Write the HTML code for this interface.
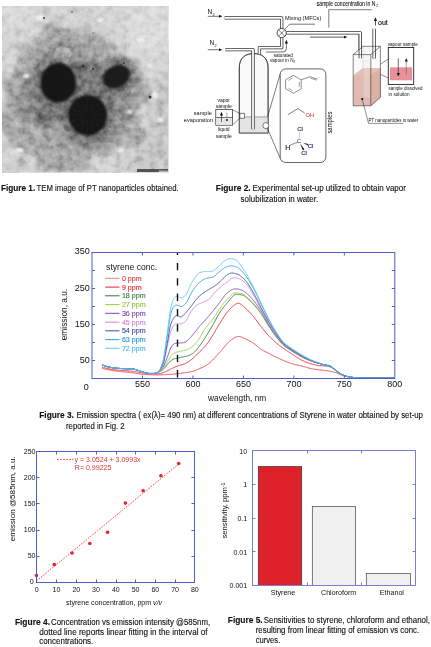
<!DOCTYPE html>
<html><head><meta charset="utf-8"><title>Figures</title>
<style>
html,body{margin:0;padding:0;background:#fff;}
body{width:431px;height:647px;overflow:hidden;}
svg{display:block;}
svg text{font-family:'Liberation Sans', Arial, Helvetica, sans-serif;}
</style></head><body>
<svg width="431" height="647" viewBox="0 0 431 647" fill="#111">
<defs>
<filter id="temf" x="0" y="0" width="1" height="1" filterUnits="objectBoundingBox" color-interpolation-filters="sRGB">
 <feTurbulence type="fractalNoise" baseFrequency="0.14" numOctaves="4" seed="11" result="t"/>
 <feColorMatrix in="t" type="matrix" values="0.9 0 0 0 0.06  0.9 0 0 0 0.06  0.9 0 0 0 0.06  0 0 0 0 1" result="g"/>
 <feBlend in="g" in2="SourceGraphic" mode="soft-light"/>
</filter>
<filter id="halof" x="-30%" y="-30%" width="160%" height="160%" color-interpolation-filters="sRGB">
 <feTurbulence type="fractalNoise" baseFrequency="0.045" numOctaves="3" seed="5" result="t"/>
 <feDisplacementMap in="SourceGraphic" in2="t" scale="30" xChannelSelector="R" yChannelSelector="G" result="d"/>
 <feGaussianBlur in="d" stdDeviation="2.2"/>
</filter>
<filter id="blur1" x="-20%" y="-20%" width="140%" height="140%"><feGaussianBlur stdDeviation="0.9"/></filter>
<filter id="blur07" x="-20%" y="-20%" width="140%" height="140%"><feGaussianBlur stdDeviation="0.6"/></filter>
<filter id="blur6" x="-50%" y="-50%" width="200%" height="200%"><feGaussianBlur stdDeviation="7"/></filter>
<filter id="blur4" x="-50%" y="-50%" width="200%" height="200%"><feGaussianBlur stdDeviation="4"/></filter>
<clipPath id="temclip"><rect x="2" y="6" width="166.5" height="166.6"/></clipPath>
</defs>
<g clip-path="url(#temclip)"><g filter="url(#temf)">
<rect x="2" y="6" width="166.5" height="166.6" fill="#d2d2d2"/>
<ellipse cx="150" cy="30" rx="25" ry="28" fill="#dcdcdc" filter="url(#blur6)"/>
<ellipse cx="18" cy="18" rx="18" ry="12" fill="#dcdcdc" filter="url(#blur6)"/>
<ellipse cx="155" cy="160" rx="30" ry="25" fill="#c6c6c6" filter="url(#blur6)"/>
<ellipse cx="162" cy="112" rx="14" ry="34" fill="#c4c4c4" filter="url(#blur6)"/>
<g filter="url(#halof)" fill="#a8a8a8"><ellipse cx="76" cy="98" rx="68" ry="64"/><ellipse cx="24" cy="108" rx="22" ry="44"/><ellipse cx="46" cy="48" rx="22" ry="24"/><ellipse cx="62" cy="150" rx="42" ry="18"/><ellipse cx="134" cy="134" rx="14" ry="13"/></g>
<g filter="url(#blur4)" fill="#8c8c8c"><ellipse cx="62" cy="84" rx="31" ry="35"/><ellipse cx="90" cy="117" rx="32" ry="32"/><ellipse cx="116" cy="80" rx="21" ry="20"/><ellipse cx="36" cy="100" rx="18" ry="30"/><ellipse cx="120" cy="110" rx="14" ry="16"/></g>
<ellipse cx="62" cy="56" rx="15" ry="13" fill="#8a8a8a" filter="url(#blur4)"/>
<circle cx="62.6" cy="55" r="8.7" fill="#b4b4b4" filter="url(#blur07)"/>
<circle cx="35.7" cy="129.1" r="7.5" fill="#b8b8b8" filter="url(#blur1)" opacity="0.8"/>
<ellipse cx="40" cy="18" rx="4" ry="2.5" fill="#eeeeee" filter="url(#blur1)"/>
<ellipse cx="26" cy="76" rx="3" ry="2" fill="#eeeeee" filter="url(#blur1)"/>
<ellipse cx="150" cy="66" rx="3" ry="2.5" fill="#eeeeee" filter="url(#blur1)"/>
<ellipse cx="140" cy="40" rx="4" ry="3" fill="#eeeeee" filter="url(#blur1)"/>
<ellipse cx="160" cy="120" rx="3" ry="2" fill="#eeeeee" filter="url(#blur1)"/>
<ellipse cx="20" cy="150" rx="4" ry="2" fill="#eeeeee" filter="url(#blur1)"/>
<ellipse cx="120" cy="150" rx="3" ry="2" fill="#eeeeee" filter="url(#blur1)"/>
<ellipse cx="100" cy="20" rx="3" ry="2" fill="#eeeeee" filter="url(#blur1)"/>
<ellipse cx="155" cy="95" rx="3" ry="3" fill="#eeeeee" filter="url(#blur1)"/>
<ellipse cx="130" cy="112" rx="2.5" ry="2" fill="#eeeeee" filter="url(#blur1)"/>
<g filter="url(#blur4)" fill="#666" opacity="0.9"><ellipse cx="58.2" cy="84" rx="24" ry="26"/><ellipse cx="87.7" cy="116" rx="25" ry="26"/><ellipse cx="116.4" cy="77" rx="19" ry="15.5" transform="rotate(-30 116.4 76.6)"/><ellipse cx="98" cy="92" rx="8" ry="8"/><ellipse cx="45" cy="118" rx="10" ry="10"/><ellipse cx="88" cy="68" rx="11" ry="9"/></g>
</g>
<ellipse cx="58.2" cy="82.8" rx="17.6" ry="19.8" fill="#141414" filter="url(#blur1)"/>
<ellipse cx="87.7" cy="115.2" rx="19.3" ry="20.3" fill="#161616" filter="url(#blur1)"/>
<ellipse cx="116.4" cy="76.6" rx="14.2" ry="10.8" transform="rotate(-30 116.4 76.6)" fill="#1c1c1c" filter="url(#blur1)"/>
<line x1="91.7" y1="115.2" x2="104.7" y2="115.2" stroke="#222" stroke-width="0.6"/>
<line x1="91.4" y1="116.7" x2="103.4" y2="121.7" stroke="#222" stroke-width="0.6"/>
<line x1="90.5" y1="118.0" x2="99.7" y2="127.2" stroke="#222" stroke-width="0.6"/>
<line x1="89.2" y1="118.9" x2="94.2" y2="130.9" stroke="#222" stroke-width="0.6"/>
<line x1="87.7" y1="119.2" x2="87.7" y2="132.2" stroke="#222" stroke-width="0.6"/>
<line x1="86.2" y1="118.9" x2="81.2" y2="130.9" stroke="#222" stroke-width="0.6"/>
<line x1="84.9" y1="118.0" x2="75.7" y2="127.2" stroke="#222" stroke-width="0.6"/>
<line x1="84.0" y1="116.7" x2="72.0" y2="121.7" stroke="#222" stroke-width="0.6"/>
<line x1="83.7" y1="115.2" x2="70.7" y2="115.2" stroke="#222" stroke-width="0.6"/>
<line x1="84.0" y1="113.7" x2="72.0" y2="108.7" stroke="#222" stroke-width="0.6"/>
<line x1="84.9" y1="112.4" x2="75.7" y2="103.2" stroke="#222" stroke-width="0.6"/>
<line x1="86.2" y1="111.5" x2="81.2" y2="99.5" stroke="#222" stroke-width="0.6"/>
<line x1="87.7" y1="111.2" x2="87.7" y2="98.2" stroke="#222" stroke-width="0.6"/>
<line x1="89.2" y1="111.5" x2="94.2" y2="99.5" stroke="#222" stroke-width="0.6"/>
<line x1="90.5" y1="112.4" x2="99.7" y2="103.2" stroke="#222" stroke-width="0.6"/>
<line x1="91.4" y1="113.7" x2="103.4" y2="108.7" stroke="#222" stroke-width="0.6"/>
<circle cx="44" cy="18" r="1.0" fill="#333"/>
<circle cx="72" cy="12" r="0.7" fill="#333"/>
<circle cx="93" cy="33" r="0.6" fill="#333"/>
<circle cx="150" cy="97" r="1.5" fill="#333"/>
<circle cx="77" cy="97" r="0.6" fill="#333"/>
<circle cx="82" cy="121" r="0.5" fill="#333"/>
<circle cx="110" cy="127" r="0.6" fill="#333"/>
<circle cx="52" cy="147" r="0.5" fill="#333"/>
<circle cx="121" cy="65" r="0.9" fill="#333"/>
<circle cx="113" cy="68" r="0.6" fill="#333"/>
<circle cx="85" cy="133" r="0.6" fill="#333"/>
<circle cx="130" cy="92" r="0.5" fill="#333"/>
<circle cx="124" cy="63" r="1.0" fill="#333"/>
<circle cx="98" cy="104" r="0.6" fill="#333"/>
<circle cx="83" cy="66" r="1.4" fill="#333"/>
<circle cx="93" cy="69" r="1.1" fill="#333"/>
<rect x="137" y="169.3" width="31" height="1.3" fill="#222"/>
<rect x="137" y="170.6" width="22" height="1.3" fill="#444"/>
<rect x="159" y="170.6" width="8.5" height="1.3" fill="#b0b0b0"/>
</g>
<defs>
<marker id="ah" markerWidth="3.4" markerHeight="3.2" refX="3" refY="1.6" orient="auto" markerUnits="userSpaceOnUse"><path d="M0,0 L3.4,1.6 L0,3.2 z" fill="#111"/></marker>
<marker id="ahg" markerWidth="3.4" markerHeight="3.2" refX="3" refY="1.6" orient="auto" markerUnits="userSpaceOnUse"><path d="M0,0 L3.4,1.6 L0,3.2 z" fill="#555"/></marker>
<filter id="stip" x="0" y="0" width="100%" height="100%"><feTurbulence type="fractalNoise" baseFrequency="0.9" numOctaves="1" seed="3"/><feColorMatrix type="matrix" values="0 0 0 0 0.6  0 0 0 0 0.6  0 0 0 0 0.6  0 0 0 -2.2 1.25"/></filter>
</defs>
<text x="207.6" y="13.8" font-size="6.5">N</text><text x="212.6" y="15.8" font-size="3.8">2</text>
<line x1="207.8" y1="16.3" x2="221.7" y2="16.3" stroke="#111" stroke-width="0.6" marker-end="url(#ah)"/>
<text x="209.4" y="45.3" font-size="6.5">N</text><text x="214.4" y="47.3" font-size="3.8">2</text>
<line x1="207.8" y1="49.7" x2="221.7" y2="49.7" stroke="#111" stroke-width="0.6" marker-end="url(#ah)"/>
<path d="M239.3,133 L239.3,68 C239.3,57 246,53.6 253.7,53.6 C261.4,53.6 268.1,57 268.1,68 L268.1,133 Z" fill="#fafafa" stroke="#333" stroke-width="0.7"/>
<rect x="239.6" y="116.9" width="28.2" height="15.8" fill="#e4e4e4"/>
<line x1="239.3" y1="116.9" x2="268.1" y2="116.9" stroke="#555" stroke-width="0.5"/>
<path d="M239.3,133 L239.3,68 C239.3,57 246,53.6 253.7,53.6 C261.4,53.6 268.1,57 268.1,68 L268.1,133 Z" fill="none" stroke="#333" stroke-width="0.7"/>
<path d="M224.6,17.9 L281.7,17.9 L281.7,28.4" fill="none" stroke="#333" stroke-width="3.3" stroke-linejoin="round" stroke-linecap="butt"/><path d="M224.6,17.9 L281.7,17.9 L281.7,28.4" fill="none" stroke="#fff" stroke-width="1.75" stroke-linejoin="round" stroke-linecap="butt"/>
<path d="M281.7,37.6 L281.7,47.6 L259.4,47.6 L259.4,54.2" fill="none" stroke="#333" stroke-width="3.3" stroke-linejoin="round" stroke-linecap="butt"/><path d="M281.7,37.6 L281.7,47.6 L259.4,47.6 L259.4,54.2" fill="none" stroke="#fff" stroke-width="1.75" stroke-linejoin="round" stroke-linecap="butt"/>
<path d="M225.4,49.6 L253,49.6 L253,129.3" fill="none" stroke="#333" stroke-width="3.3" stroke-linejoin="round" stroke-linecap="butt"/><path d="M225.4,49.6 L253,49.6 L253,129.3" fill="none" stroke="#fff" stroke-width="1.75" stroke-linejoin="round" stroke-linecap="butt"/>
<path d="M286.3,32.9 L360.3,32.9 L360.3,58.2" fill="none" stroke="#333" stroke-width="3.3" stroke-linejoin="round" stroke-linecap="butt"/><path d="M286.3,32.9 L360.3,32.9 L360.3,58.2" fill="none" stroke="#fff" stroke-width="1.75" stroke-linejoin="round" stroke-linecap="butt"/>
<circle cx="281.7" cy="33" r="4.6" fill="#fff" stroke="#222" stroke-width="0.8"/>
<path d="M278.4,29.7 L285,36.3 M285,29.7 L278.4,36.3" stroke="#222" stroke-width="0.6"/>
<text x="284.9" y="20.3" font-size="5.6">Mixing (MFCs)</text>
<path d="M285.2,29 L289.5,24.2 L315,24.2" fill="none" stroke="#222" stroke-width="0.6"/>
<line x1="310" y1="37.1" x2="346.5" y2="37.1" stroke="#111" stroke-width="0.7" marker-end="url(#ah)"/>
<path d="M328.8,27.6 L328.8,9.7 L371.7,9.7" fill="none" stroke="#222" stroke-width="0.6"/>
<text x="316.8" y="5.9" font-size="6.3" stroke="#111" stroke-width="0.08" textLength="58.5" lengthAdjust="spacingAndGlyphs">sample concentration in N</text><text x="376.2" y="7.3" font-size="3.6">2</text>
<path d="M265.9,52 L283,52 Q286.4,52 286.4,48.5 L286.4,40.5" fill="none" stroke="#111" stroke-width="0.6" marker-end="url(#ah)"/>
<text x="283.3" y="56.8" font-size="4.6" text-anchor="middle">saturated</text>
<text x="282.6" y="61.9" font-size="4.6" text-anchor="middle">vapour in N<tspan font-size="3" dy="1">2</tspan></text>
<rect x="239.9" y="113.2" width="4.4" height="5" fill="#fff" stroke="#222" stroke-width="0.6"/>
<path d="M232.5,109.8 L239.9,113.4 M232.5,125 L239.9,118" stroke="#222" stroke-width="0.5" fill="none"/>
<rect x="215.8" y="109.5" width="16.7" height="15.7" fill="#fff" stroke="#222" stroke-width="0.7"/>
<rect x="216.2" y="117.5" width="15.9" height="7.4" fill="#e6e6e6"/><rect x="225.8" y="112.5" width="2" height="4.6" fill="#d0d0d0"/>
<line x1="215.8" y1="117.5" x2="232.5" y2="117.5" stroke="#222" stroke-width="0.6"/>
<line x1="221.5" y1="122" x2="221.5" y2="112.5" stroke="#111" stroke-width="0.6" marker-end="url(#ah)"/>
<rect x="226" y="119.2" width="1.8" height="1.6" fill="#111"/>
<text x="223.7" y="102.1" font-size="5" text-anchor="middle">vapor</text>
<text x="223.7" y="107.6" font-size="5" text-anchor="middle">sample</text>
<text x="223.7" y="131.4" font-size="5" text-anchor="middle">liquid</text>
<text x="223.7" y="137.6" font-size="5" text-anchor="middle">sample</text>
<text x="211.8" y="115.3" font-size="5.6" text-anchor="end">sample</text>
<text x="213" y="121.7" font-size="5.6" text-anchor="end">evaporation</text>
<path d="M267.8,116 L280.3,73.5 M267.5,128.5 L280.3,158.5" stroke="#222" stroke-width="0.6" fill="none"/>
<circle cx="265.9" cy="125.6" r="3" fill="#fff" stroke="#222" stroke-width="0.6"/>
<rect x="280.2" y="68.9" width="45.7" height="93.6" rx="5.5" fill="#fff" stroke="#222" stroke-width="0.7"/>
<path d="M293.40,75.30 L301.19,79.80 L301.19,88.80 L293.40,93.30 L285.61,88.80 L285.61,79.80 Z" fill="none" stroke="#444" stroke-width="0.6"/>
<line x1="299.29" y1="81.92" x2="299.29" y2="86.68" stroke="#444" stroke-width="0.5"/>
<line x1="292.52" y1="90.59" x2="288.39" y2="88.21" stroke="#444" stroke-width="0.5"/>
<line x1="288.39" y1="80.39" x2="292.52" y2="78.01" stroke="#444" stroke-width="0.5"/>
<path d="M301.19,79.80 L310,76.7 L317.5,79.2" fill="none" stroke="#444" stroke-width="0.6"/>
<path d="M310.5,78.2 L316.6,80.2" fill="none" stroke="#444" stroke-width="0.5"/>
<path d="M287.8,114.7 L298,108.6 L304.5,112.9" fill="none" stroke="#222" stroke-width="0.6"/>
<text x="305.6" y="116.5" font-size="5.6" fill="#e8202a">OH</text>
<text x="300" y="130.6" font-size="6" fill="#2e2e78" stroke="#2e2e78" stroke-width="0.18" text-anchor="middle">Cl</text>
<line x1="299.6" y1="131.6" x2="299.6" y2="138.3" stroke="#999" stroke-width="0.5"/>
<text x="298.8" y="143.4" font-size="6" fill="#2a2a55" text-anchor="middle">C</text>
<text x="287.8" y="149.7" font-size="7" fill="#111" stroke="#111" stroke-width="0.15" text-anchor="middle">H</text>
<line x1="290.1" y1="145.2" x2="297.1" y2="142.3" stroke="#222" stroke-width="0.55"/>
<path d="M302.9,142.8 L308.3,144.1 L307.9,145.5 Z" fill="#222"/>
<path d="M300,143.3 L302.8,150.3 L304.5,149.6 Z" fill="#111"/>
<text x="310.6" y="148" font-size="6" fill="#2e2e78" stroke="#2e2e78" stroke-width="0.18" text-anchor="middle">Cl</text>
<text x="304" y="155" font-size="6" fill="#2e2e78" stroke="#2e2e78" stroke-width="0.18" text-anchor="middle">Cl</text>
<text transform="translate(332.2 133.6) rotate(-90)" font-size="7" textLength="22" lengthAdjust="spacingAndGlyphs">samples</text>
<path d="M353.2,54.6 L363,46.3 L380.4,46.3 L380.4,97.3 L370.8,105.8 L353.2,105.8 Z" fill="#fbfbfb" stroke="none"/>
<path d="M353.2,75.5 L363,67.9 L380.4,67.9 L380.4,97.3 L370.8,105.8 L353.2,105.8 Z" fill="#e2bab0"/>
<path d="M353.2,75.5 L363,67.9 L380.4,67.9 L370.8,75.5 Z" fill="#e6c0b6"/>
<path d="M370.8,75.5 L380.4,67.9 L380.4,97.3 L370.8,105.8 Z" fill="#ddb2a6"/>
<rect x="363.2" y="46.5" width="6.8" height="51.5" fill="#e9e9e9" opacity="0.3"/><path d="M363,46.3 L363,98 L353.2,105.8 M363,98 L380.4,98" stroke="#b8b8b8" stroke-width="0.4" fill="none"/>
<path d="M374.1,28.8 L374.1,58.5" fill="none" stroke="#333" stroke-width="3.3" stroke-linejoin="round" stroke-linecap="butt"/><path d="M374.1,28.8 L374.1,58.5" fill="none" stroke="#fff" stroke-width="1.75" stroke-linejoin="round" stroke-linecap="butt"/>
<path d="M360.3,34 L360.3,58.2" fill="none" stroke="#333" stroke-width="3.3" stroke-linejoin="round" stroke-linecap="butt"/><path d="M360.3,34 L360.3,58.2" fill="none" stroke="#fff" stroke-width="1.75" stroke-linejoin="round" stroke-linecap="butt"/>
<path d="M353.2,54.6 L363,46.3 L380.4,46.3 L370.8,54.6 Z M353.2,54.6 L353.2,105.8 L370.8,105.8 L370.8,54.6 M370.8,105.8 L380.4,97.3 L380.4,46.3" fill="none" stroke="#333" stroke-width="0.6" stroke-linejoin="round"/>
<circle cx="362.2" cy="99" r="1.1" fill="#000"/>
<path d="M362.2,99 L368.5,123.4 L403.3,123.4" fill="none" stroke="#222" stroke-width="0.5"/>
<text x="368.6" y="122.2" font-size="5.4" textLength="49.5" lengthAdjust="spacingAndGlyphs">PT nanoparticles in water</text>
<line x1="375.5" y1="25.5" x2="375.5" y2="17.9" stroke="#111" stroke-width="0.7" marker-end="url(#ah)"/>
<text x="378" y="25" font-size="7.2" stroke="#111" stroke-width="0.15" textLength="9.8" lengthAdjust="spacingAndGlyphs">out</text>
<path d="M380.4,64.3 L388.3,59 M380.4,74.4 L388.3,77.9" stroke="#222" stroke-width="0.5" fill="none"/>
<rect x="388.3" y="47.5" width="25.4" height="36.9" fill="#fff" stroke="#222" stroke-width="0.9"/>
<rect x="390" y="67.3" width="22.2" height="13" fill="#e8909c"/>
<line x1="398.3" y1="58.4" x2="398.3" y2="76" stroke="#111" stroke-width="0.6" marker-end="url(#ah)"/>
<line x1="406.3" y1="74.4" x2="406.3" y2="58.6" stroke="#444" stroke-width="0.5" marker-end="url(#ah)"/>
<text x="387.7" y="45.6" font-size="4.6">vapour sample</text>
<text x="388.5" y="90.4" font-size="5" textLength="34" lengthAdjust="spacingAndGlyphs">sample dissolved</text>
<text x="388.5" y="96.3" font-size="5" textLength="21" lengthAdjust="spacingAndGlyphs">in solution</text>
<path d="M102.09,368.42 L102.60,368.53 L103.10,368.65 L103.61,368.76 L104.11,368.87 L104.62,368.98 L105.12,369.09 L105.63,369.19 L106.13,369.30 L106.64,369.40 L107.14,369.50 L107.64,369.60 L108.15,369.70 L108.65,369.80 L109.16,369.90 L109.66,369.99 L110.17,370.09 L110.67,370.19 L111.18,370.28 L111.68,370.37 L112.19,370.46 L112.69,370.55 L113.20,370.63 L113.70,370.72 L114.21,370.79 L114.71,370.87 L115.21,370.94 L115.72,371.01 L116.22,371.07 L116.73,371.14 L117.23,371.20 L117.74,371.25 L118.24,371.31 L118.75,371.37 L119.25,371.42 L119.76,371.47 L120.26,371.52 L120.77,371.57 L121.27,371.62 L121.78,371.67 L122.28,371.72 L122.78,371.76 L123.29,371.81 L123.79,371.86 L124.30,371.90 L124.80,371.95 L125.31,371.99 L125.81,372.04 L126.32,372.09 L126.82,372.13 L127.33,372.18 L127.83,372.23 L128.34,372.28 L128.84,372.33 L129.35,372.39 L129.85,372.44 L130.35,372.50 L130.86,372.55 L131.36,372.61 L131.87,372.68 L132.37,372.74 L132.88,372.81 L133.38,372.88 L133.89,372.96 L134.39,373.05 L134.90,373.13 L135.40,373.22 L135.91,373.32 L136.41,373.41 L136.92,373.50 L137.42,373.59 L137.92,373.68 L138.43,373.77 L138.93,373.85 L139.44,373.93 L139.94,374.00 L140.45,374.07 L140.95,374.13 L141.46,374.18 L141.96,374.23 L142.47,374.27 L142.97,374.32 L143.48,374.36 L143.98,374.40 L144.49,374.44 L144.99,374.47 L145.49,374.51 L146.00,374.54 L146.50,374.58 L147.01,374.61 L147.51,374.63 L148.02,374.66 L148.52,374.68 L149.03,374.70 L149.53,374.72 L150.04,374.74 L150.54,374.75 L151.05,374.77 L151.55,374.79 L152.06,374.80 L152.56,374.82 L153.06,374.83 L153.57,374.84 L154.07,374.86 L154.58,374.87 L155.08,374.88 L155.59,374.88 L156.09,374.89 L156.60,374.90 L157.10,374.90 L157.61,374.90 L158.11,374.90 L158.62,374.89 L159.12,374.89 L159.63,374.88 L160.13,374.87 L160.63,374.85 L161.14,374.84 L161.64,374.82 L162.15,374.80 L162.65,374.78 L163.16,374.76 L163.66,374.74 L164.17,374.72 L164.67,374.69 L165.18,374.67 L165.68,374.64 L166.19,374.62 L166.69,374.59 L167.20,374.57 L167.70,374.54 L168.20,374.51 L168.71,374.48 L169.21,374.45 L169.72,374.41 L170.22,374.38 L170.73,374.34 L171.23,374.30 L171.74,374.25 L172.24,374.21 L172.75,374.16 L173.25,374.11 L173.76,374.06 L174.26,374.01 L174.77,373.96 L175.27,373.91 L175.77,373.85 L176.28,373.80 L176.78,373.75 L177.29,373.69 L177.79,373.64 L178.30,373.59 L178.80,373.53 L179.31,373.47 L179.81,373.41 L180.32,373.35 L180.82,373.29 L181.33,373.23 L181.83,373.16 L182.34,373.10 L182.84,373.03 L183.34,372.96 L183.85,372.89 L184.35,372.81 L184.86,372.74 L185.36,372.67 L185.87,372.59 L186.37,372.52 L186.88,372.44 L187.38,372.37 L187.89,372.29 L188.39,372.21 L188.90,372.12 L189.40,372.04 L189.91,371.95 L190.41,371.85 L190.91,371.75 L191.42,371.65 L191.92,371.54 L192.43,371.42 L192.93,371.30 L193.44,371.16 L193.94,371.01 L194.45,370.84 L194.95,370.66 L195.46,370.46 L195.96,370.25 L196.47,370.04 L196.97,369.82 L197.48,369.59 L197.98,369.35 L198.48,369.12 L198.99,368.88 L199.49,368.65 L200.00,368.42 L200.50,368.19 L201.01,367.97 L201.51,367.74 L202.02,367.51 L202.52,367.28 L203.03,367.04 L203.53,366.80 L204.04,366.55 L204.54,366.29 L205.05,366.02 L205.55,365.74 L206.05,365.45 L206.56,365.14 L207.06,364.82 L207.57,364.47 L208.07,364.10 L208.58,363.70 L209.08,363.27 L209.59,362.82 L210.09,362.36 L210.60,361.88 L211.10,361.40 L211.61,360.90 L212.11,360.41 L212.62,359.91 L213.12,359.42 L213.62,358.92 L214.13,358.42 L214.63,357.90 L215.14,357.37 L215.64,356.83 L216.15,356.29 L216.65,355.74 L217.16,355.19 L217.66,354.63 L218.17,354.08 L218.67,353.52 L219.18,352.96 L219.68,352.41 L220.19,351.86 L220.69,351.30 L221.19,350.72 L221.70,350.13 L222.20,349.53 L222.71,348.91 L223.21,348.29 L223.72,347.67 L224.22,347.04 L224.73,346.42 L225.23,345.81 L225.74,345.20 L226.24,344.61 L226.75,344.03 L227.25,343.48 L227.76,342.94 L228.26,342.43 L228.76,341.95 L229.27,341.50 L229.77,341.08 L230.28,340.70 L230.78,340.34 L231.29,339.96 L231.79,339.59 L232.30,339.22 L232.80,338.85 L233.31,338.49 L233.81,338.15 L234.32,337.82 L234.82,337.52 L235.33,337.24 L235.83,337.00 L236.33,336.79 L236.84,336.61 L237.34,336.49 L237.85,336.41 L238.35,336.38 L238.86,336.40 L239.36,336.47 L239.87,336.57 L240.37,336.70 L240.88,336.87 L241.38,337.06 L241.89,337.26 L242.39,337.49 L242.90,337.72 L243.40,337.96 L243.90,338.20 L244.41,338.44 L244.91,338.68 L245.42,338.90 L245.92,339.12 L246.43,339.34 L246.93,339.57 L247.44,339.81 L247.94,340.06 L248.45,340.31 L248.95,340.57 L249.46,340.83 L249.96,341.11 L250.47,341.39 L250.97,341.67 L251.47,341.97 L251.98,342.27 L252.48,342.58 L252.99,342.90 L253.49,343.22 L254.00,343.56 L254.50,343.94 L255.01,344.34 L255.51,344.76 L256.02,345.20 L256.52,345.65 L257.03,346.10 L257.53,346.55 L258.04,347.00 L258.54,347.44 L259.04,347.86 L259.55,348.26 L260.05,348.64 L260.56,348.98 L261.06,349.30 L261.57,349.61 L262.07,349.91 L262.58,350.20 L263.08,350.48 L263.59,350.75 L264.09,351.01 L264.60,351.27 L265.10,351.53 L265.61,351.78 L266.11,352.03 L266.61,352.28 L267.12,352.53 L267.62,352.79 L268.13,353.04 L268.63,353.30 L269.14,353.56 L269.64,353.82 L270.15,354.08 L270.65,354.35 L271.16,354.61 L271.66,354.87 L272.17,355.13 L272.67,355.38 L273.18,355.64 L273.68,355.90 L274.18,356.15 L274.69,356.41 L275.19,356.66 L275.70,356.90 L276.20,357.15 L276.71,357.39 L277.21,357.64 L277.72,357.87 L278.22,358.11 L278.73,358.34 L279.23,358.57 L279.74,358.80 L280.24,359.03 L280.75,359.26 L281.25,359.50 L281.75,359.73 L282.26,359.96 L282.76,360.18 L283.27,360.41 L283.77,360.64 L284.28,360.86 L284.78,361.08 L285.29,361.30 L285.79,361.51 L286.30,361.72 L286.80,361.92 L287.31,362.12 L287.81,362.32 L288.32,362.51 L288.82,362.70 L289.32,362.88 L289.83,363.05 L290.33,363.22 L290.84,363.38 L291.34,363.53 L291.85,363.68 L292.35,363.83 L292.86,363.96 L293.36,364.10 L293.87,364.23 L294.37,364.36 L294.88,364.48 L295.38,364.60 L295.89,364.72 L296.39,364.83 L296.89,364.95 L297.40,365.06 L297.90,365.18 L298.41,365.29 L298.91,365.40 L299.42,365.51 L299.92,365.63 L300.43,365.74 L300.93,365.86 L301.44,365.98 L301.94,366.10 L302.45,366.23 L302.95,366.35 L303.46,366.48 L303.96,366.62 L304.46,366.76 L304.97,366.91 L305.47,367.07 L305.98,367.23 L306.48,367.39 L306.99,367.56 L307.49,367.72 L308.00,367.88 L308.50,368.03 L309.01,368.17 L309.51,368.30 L310.02,368.42 L310.52,368.53 L311.03,368.64 L311.53,368.74 L312.03,368.84 L312.54,368.93 L313.04,369.02 L313.55,369.11 L314.05,369.19 L314.56,369.27 L315.06,369.35 L315.57,369.43 L316.07,369.50 L316.58,369.57 L317.08,369.64 L317.59,369.70 L318.09,369.76 L318.60,369.82 L319.10,369.88 L319.60,369.93 L320.11,369.99 L320.61,370.05 L321.12,370.10 L321.62,370.16 L322.13,370.22 L322.63,370.28 L323.14,370.34 L323.64,370.39 L324.15,370.45 L324.65,370.50 L325.16,370.56 L325.66,370.62 L326.17,370.68 L326.67,370.74 L327.17,370.80 L327.68,370.87 L328.18,370.94 L328.69,371.01 L329.19,371.09 L329.70,371.18 L330.20,371.26 L330.71,371.36 L331.21,371.45 L331.72,371.55 L332.22,371.66 L332.73,371.77 L333.23,371.89 L333.74,372.01 L334.24,372.14 L334.74,372.28 L335.25,372.42 L335.75,372.58 L336.26,372.74 L336.76,372.92 L337.27,373.14 L337.77,373.37 L338.28,373.61 L338.78,373.85 L339.29,374.10 L339.79,374.33 L340.30,374.54 L340.80,374.74 L341.31,374.94 L341.81,375.13 L342.31,375.31 L342.82,375.49 L343.32,375.67 L343.83,375.83 L344.33,375.98 L344.84,376.13 L345.34,376.28 L345.85,376.42 L346.35,376.57 L346.86,376.71 L347.36,376.85 L347.87,376.97 L348.37,377.09 L348.88,377.20 L349.38,377.29 L349.88,377.36 L350.39,377.42 L350.89,377.47 L351.40,377.51 L351.90,377.54 L352.41,377.58 L352.91,377.61 L353.42,377.63 L353.92,377.66 L354.43,377.68 L354.93,377.71 L355.44,377.73 L355.94,377.75 L356.45,377.78 L356.95,377.81 L357.45,377.84 L357.96,377.86 L358.46,377.89 L358.97,377.92 L359.47,377.95 L359.98,377.98 L360.48,378.01 L360.99,378.04 L361.49,378.06 L362.00,378.08 L362.50,378.10 L363.01,378.12 L363.51,378.13 L364.02,378.14 L364.52,378.14 L365.02,378.14 L365.53,378.14 L366.03,378.14 L366.54,378.14 L367.04,378.14 L367.55,378.14 L368.05,378.14 L368.56,378.14 L369.06,378.14 L369.57,378.14 L370.07,378.14 L370.58,378.14 L371.08,378.14 L371.59,378.14 L372.09,378.14 L372.59,378.14 L373.10,378.14 L373.60,378.14 L374.11,378.14 L374.61,378.14 L375.12,378.14 L375.62,378.14 L376.13,378.14 L376.63,378.14 L377.14,378.14 L377.64,378.14 L378.15,378.14 L378.65,378.14 L379.16,378.14 L379.66,378.14 L380.16,378.14 L380.67,378.14 L381.17,378.14 L381.68,378.14 L382.18,378.14 L382.69,378.14 L383.19,378.14 L383.70,378.14 L384.20,378.14 L384.71,378.14 L385.21,378.14 L385.72,378.14 L386.22,378.14 L386.73,378.14 L387.23,378.14 L387.73,378.14 L388.24,378.14 L388.74,378.14 L389.25,378.14 L389.75,378.14 L390.26,378.14 L390.76,378.14 L391.27,378.14 L391.77,378.14 L392.28,378.14 L392.78,378.14 L393.29,378.14 L393.79,378.14 L394.30,378.14 L394.80,378.14" fill="none" stroke="#ea3a40" stroke-width="0.9" stroke-linejoin="round"/>
<path d="M102.09,366.98 L102.60,367.14 L103.10,367.30 L103.61,367.46 L104.11,367.62 L104.62,367.76 L105.12,367.91 L105.63,368.05 L106.13,368.18 L106.64,368.30 L107.14,368.42 L107.64,368.53 L108.15,368.64 L108.65,368.75 L109.16,368.85 L109.66,368.96 L110.17,369.06 L110.67,369.15 L111.18,369.25 L111.68,369.34 L112.19,369.42 L112.69,369.50 L113.20,369.58 L113.70,369.66 L114.21,369.73 L114.71,369.80 L115.21,369.86 L115.72,369.92 L116.22,369.97 L116.73,370.03 L117.23,370.08 L117.74,370.13 L118.24,370.17 L118.75,370.22 L119.25,370.26 L119.76,370.30 L120.26,370.34 L120.77,370.38 L121.27,370.42 L121.78,370.45 L122.28,370.49 L122.78,370.52 L123.29,370.56 L123.79,370.59 L124.30,370.63 L124.80,370.66 L125.31,370.70 L125.81,370.73 L126.32,370.77 L126.82,370.80 L127.33,370.84 L127.83,370.88 L128.34,370.92 L128.84,370.96 L129.35,371.00 L129.85,371.05 L130.35,371.09 L130.86,371.14 L131.36,371.19 L131.87,371.24 L132.37,371.30 L132.88,371.36 L133.38,371.43 L133.89,371.50 L134.39,371.57 L134.90,371.65 L135.40,371.73 L135.91,371.81 L136.41,371.90 L136.92,371.98 L137.42,372.07 L137.92,372.16 L138.43,372.25 L138.93,372.34 L139.44,372.42 L139.94,372.50 L140.45,372.59 L140.95,372.66 L141.46,372.74 L141.96,372.82 L142.47,372.90 L142.97,372.98 L143.48,373.07 L143.98,373.16 L144.49,373.25 L144.99,373.34 L145.49,373.43 L146.00,373.51 L146.50,373.58 L147.01,373.65 L147.51,373.71 L148.02,373.75 L148.52,373.79 L149.03,373.81 L149.53,373.82 L150.04,373.82 L150.54,373.82 L151.05,373.82 L151.55,373.82 L152.06,373.82 L152.56,373.82 L153.06,373.82 L153.57,373.82 L154.07,373.82 L154.58,373.82 L155.08,373.82 L155.59,373.82 L156.09,373.82 L156.60,373.82 L157.10,373.82 L157.61,373.82 L158.11,373.80 L158.62,373.75 L159.12,373.68 L159.63,373.58 L160.13,373.46 L160.63,373.33 L161.14,373.18 L161.64,373.04 L162.15,372.89 L162.65,372.74 L163.16,372.58 L163.66,372.41 L164.17,372.21 L164.67,372.00 L165.18,371.77 L165.68,371.54 L166.19,371.30 L166.69,371.06 L167.20,370.82 L167.70,370.58 L168.20,370.34 L168.71,370.09 L169.21,369.84 L169.72,369.58 L170.22,369.32 L170.73,369.06 L171.23,368.80 L171.74,368.55 L172.24,368.30 L172.75,368.06 L173.25,367.83 L173.76,367.60 L174.26,367.37 L174.77,367.14 L175.27,366.92 L175.77,366.70 L176.28,366.49 L176.78,366.28 L177.29,366.09 L177.79,365.90 L178.30,365.73 L178.80,365.56 L179.31,365.41 L179.81,365.27 L180.32,365.14 L180.82,365.00 L181.33,364.87 L181.83,364.73 L182.34,364.60 L182.84,364.45 L183.34,364.29 L183.85,364.12 L184.35,363.94 L184.86,363.74 L185.36,363.52 L185.87,363.27 L186.37,363.01 L186.88,362.72 L187.38,362.42 L187.89,362.10 L188.39,361.77 L188.90,361.42 L189.40,361.06 L189.91,360.69 L190.41,360.31 L190.91,359.93 L191.42,359.54 L191.92,359.14 L192.43,358.74 L192.93,358.34 L193.44,357.93 L193.94,357.50 L194.45,357.05 L194.95,356.58 L195.46,356.11 L195.96,355.62 L196.47,355.12 L196.97,354.61 L197.48,354.09 L197.98,353.58 L198.48,353.06 L198.99,352.53 L199.49,352.02 L200.00,351.50 L200.50,350.99 L201.01,350.48 L201.51,349.98 L202.02,349.48 L202.52,348.97 L203.03,348.46 L203.53,347.94 L204.04,347.42 L204.54,346.88 L205.05,346.33 L205.55,345.76 L206.05,345.18 L206.56,344.57 L207.06,343.94 L207.57,343.28 L208.07,342.58 L208.58,341.85 L209.08,341.10 L209.59,340.32 L210.09,339.52 L210.60,338.70 L211.10,337.88 L211.61,337.05 L212.11,336.22 L212.62,335.40 L213.12,334.58 L213.62,333.76 L214.13,332.92 L214.63,332.06 L215.14,331.20 L215.64,330.33 L216.15,329.45 L216.65,328.57 L217.16,327.70 L217.66,326.83 L218.17,325.97 L218.67,325.12 L219.18,324.29 L219.68,323.49 L220.19,322.70 L220.69,321.92 L221.19,321.14 L221.70,320.34 L222.20,319.55 L222.71,318.76 L223.21,317.96 L223.72,317.18 L224.22,316.40 L224.73,315.63 L225.23,314.87 L225.74,314.13 L226.24,313.41 L226.75,312.72 L227.25,312.04 L227.76,311.40 L228.26,310.78 L228.76,310.19 L229.27,309.64 L229.77,309.13 L230.28,308.66 L230.78,308.20 L231.29,307.74 L231.79,307.27 L232.30,306.80 L232.80,306.34 L233.31,305.90 L233.81,305.47 L234.32,305.06 L234.82,304.68 L235.33,304.34 L235.83,304.03 L236.33,303.77 L236.84,303.55 L237.34,303.39 L237.85,303.29 L238.35,303.26 L238.86,303.31 L239.36,303.44 L239.87,303.65 L240.37,303.93 L240.88,304.27 L241.38,304.64 L241.89,305.05 L242.39,305.49 L242.90,305.93 L243.40,306.37 L243.90,306.81 L244.41,307.22 L244.91,307.63 L245.42,308.05 L245.92,308.50 L246.43,308.96 L246.93,309.43 L247.44,309.92 L247.94,310.43 L248.45,310.94 L248.95,311.47 L249.46,312.01 L249.96,312.56 L250.47,313.12 L250.97,313.68 L251.47,314.25 L251.98,314.83 L252.48,315.41 L252.99,315.99 L253.49,316.58 L254.00,317.18 L254.50,317.81 L255.01,318.45 L255.51,319.12 L256.02,319.79 L256.52,320.48 L257.03,321.17 L257.53,321.87 L258.04,322.57 L258.54,323.26 L259.04,323.95 L259.55,324.63 L260.05,325.29 L260.56,325.94 L261.06,326.58 L261.57,327.22 L262.07,327.86 L262.58,328.49 L263.08,329.13 L263.59,329.76 L264.09,330.39 L264.60,331.01 L265.10,331.63 L265.61,332.23 L266.11,332.83 L266.61,333.42 L267.12,334.00 L267.62,334.57 L268.13,335.12 L268.63,335.66 L269.14,336.19 L269.64,336.71 L270.15,337.22 L270.65,337.72 L271.16,338.21 L271.66,338.70 L272.17,339.18 L272.67,339.66 L273.18,340.12 L273.68,340.58 L274.18,341.04 L274.69,341.48 L275.19,341.93 L275.70,342.36 L276.20,342.79 L276.71,343.22 L277.21,343.64 L277.72,344.05 L278.22,344.46 L278.73,344.86 L279.23,345.26 L279.74,345.65 L280.24,346.03 L280.75,346.42 L281.25,346.79 L281.75,347.16 L282.26,347.53 L282.76,347.90 L283.27,348.26 L283.77,348.62 L284.28,348.98 L284.78,349.33 L285.29,349.67 L285.79,350.02 L286.30,350.36 L286.80,350.69 L287.31,351.03 L287.81,351.36 L288.32,351.68 L288.82,352.01 L289.32,352.34 L289.83,352.66 L290.33,352.98 L290.84,353.30 L291.34,353.62 L291.85,353.95 L292.35,354.28 L292.86,354.61 L293.36,354.94 L293.87,355.27 L294.37,355.60 L294.88,355.94 L295.38,356.27 L295.89,356.60 L296.39,356.93 L296.89,357.26 L297.40,357.58 L297.90,357.90 L298.41,358.21 L298.91,358.52 L299.42,358.83 L299.92,359.13 L300.43,359.42 L300.93,359.70 L301.44,359.98 L301.94,360.25 L302.45,360.51 L302.95,360.75 L303.46,360.99 L303.96,361.22 L304.46,361.44 L304.97,361.65 L305.47,361.87 L305.98,362.07 L306.48,362.27 L306.99,362.47 L307.49,362.66 L308.00,362.84 L308.50,363.02 L309.01,363.20 L309.51,363.36 L310.02,363.52 L310.52,363.68 L311.03,363.83 L311.53,363.97 L312.03,364.10 L312.54,364.23 L313.04,364.36 L313.55,364.48 L314.05,364.61 L314.56,364.73 L315.06,364.85 L315.57,364.96 L316.07,365.06 L316.58,365.16 L317.08,365.25 L317.59,365.34 L318.09,365.42 L318.60,365.48 L319.10,365.54 L319.60,365.59 L320.11,365.63 L320.61,365.66 L321.12,365.70 L321.62,365.72 L322.13,365.75 L322.63,365.78 L323.14,365.82 L323.64,365.86 L324.15,365.90 L324.65,365.95 L325.16,366.00 L325.66,366.06 L326.17,366.12 L326.67,366.18 L327.17,366.25 L327.68,366.33 L328.18,366.42 L328.69,366.51 L329.19,366.62 L329.70,366.75 L330.20,366.93 L330.71,367.14 L331.21,367.38 L331.72,367.65 L332.22,367.93 L332.73,368.23 L333.23,368.53 L333.74,368.84 L334.24,369.14 L334.74,369.45 L335.25,369.79 L335.75,370.15 L336.26,370.53 L336.76,370.91 L337.27,371.30 L337.77,371.68 L338.28,372.05 L338.78,372.41 L339.29,372.74 L339.79,373.06 L340.30,373.39 L340.80,373.72 L341.31,374.05 L341.81,374.37 L342.31,374.67 L342.82,374.95 L343.32,375.20 L343.83,375.43 L344.33,375.62 L344.84,375.79 L345.34,375.94 L345.85,376.09 L346.35,376.23 L346.86,376.36 L347.36,376.48 L347.87,376.59 L348.37,376.70 L348.88,376.80 L349.38,376.89 L349.88,376.98 L350.39,377.06 L350.89,377.14 L351.40,377.22 L351.90,377.29 L352.41,377.36 L352.91,377.43 L353.42,377.49 L353.92,377.55 L354.43,377.60 L354.93,377.66 L355.44,377.70 L355.94,377.74 L356.45,377.78 L356.95,377.81 L357.45,377.85 L357.96,377.88 L358.46,377.91 L358.97,377.94 L359.47,377.97 L359.98,378.00 L360.48,378.03 L360.99,378.05 L361.49,378.07 L362.00,378.09 L362.50,378.11 L363.01,378.12 L363.51,378.13 L364.02,378.14 L364.52,378.14 L365.02,378.14 L365.53,378.14 L366.03,378.14 L366.54,378.14 L367.04,378.14 L367.55,378.14 L368.05,378.14 L368.56,378.14 L369.06,378.14 L369.57,378.14 L370.07,378.14 L370.58,378.14 L371.08,378.14 L371.59,378.14 L372.09,378.14 L372.59,378.14 L373.10,378.14 L373.60,378.14 L374.11,378.14 L374.61,378.14 L375.12,378.14 L375.62,378.14 L376.13,378.14 L376.63,378.14 L377.14,378.14 L377.64,378.14 L378.15,378.14 L378.65,378.14 L379.16,378.14 L379.66,378.14 L380.16,378.14 L380.67,378.14 L381.17,378.14 L381.68,378.14 L382.18,378.14 L382.69,378.14 L383.19,378.14 L383.70,378.14 L384.20,378.14 L384.71,378.14 L385.21,378.14 L385.72,378.14 L386.22,378.14 L386.73,378.14 L387.23,378.14 L387.73,378.14 L388.24,378.14 L388.74,378.14 L389.25,378.14 L389.75,378.14 L390.26,378.14 L390.76,378.14 L391.27,378.14 L391.77,378.14 L392.28,378.14 L392.78,378.14 L393.29,378.14 L393.79,378.14 L394.30,378.14 L394.80,378.14" fill="none" stroke="#e8242c" stroke-width="0.9" stroke-linejoin="round"/>
<path d="M102.09,364.82 L102.60,365.03 L103.10,365.24 L103.61,365.45 L104.11,365.64 L104.62,365.83 L105.12,366.02 L105.63,366.19 L106.13,366.34 L106.64,366.49 L107.14,366.62 L107.64,366.74 L108.15,366.86 L108.65,366.97 L109.16,367.08 L109.66,367.19 L110.17,367.29 L110.67,367.39 L111.18,367.48 L111.68,367.57 L112.19,367.65 L112.69,367.73 L113.20,367.81 L113.70,367.88 L114.21,367.94 L114.71,368.00 L115.21,368.06 L115.72,368.11 L116.22,368.16 L116.73,368.21 L117.23,368.26 L117.74,368.30 L118.24,368.35 L118.75,368.39 L119.25,368.42 L119.76,368.46 L120.26,368.49 L120.77,368.52 L121.27,368.55 L121.78,368.58 L122.28,368.60 L122.78,368.62 L123.29,368.64 L123.79,368.66 L124.30,368.68 L124.80,368.70 L125.31,368.72 L125.81,368.74 L126.32,368.75 L126.82,368.76 L127.33,368.77 L127.83,368.78 L128.34,368.78 L128.84,368.78 L129.35,368.78 L129.85,368.78 L130.35,368.78 L130.86,368.78 L131.36,368.78 L131.87,368.78 L132.37,368.78 L132.88,368.81 L133.38,368.89 L133.89,369.02 L134.39,369.17 L134.90,369.35 L135.40,369.53 L135.91,369.70 L136.41,369.86 L136.92,370.01 L137.42,370.17 L137.92,370.33 L138.43,370.49 L138.93,370.65 L139.44,370.82 L139.94,370.99 L140.45,371.15 L140.95,371.32 L141.46,371.48 L141.96,371.64 L142.47,371.81 L142.97,371.99 L143.48,372.16 L143.98,372.32 L144.49,372.47 L144.99,372.62 L145.49,372.74 L146.00,372.86 L146.50,372.98 L147.01,373.10 L147.51,373.21 L148.02,373.31 L148.52,373.39 L149.03,373.44 L149.53,373.46 L150.04,373.46 L150.54,373.46 L151.05,373.46 L151.55,373.46 L152.06,373.46 L152.56,373.46 L153.06,373.46 L153.57,373.46 L154.07,373.43 L154.58,373.36 L155.08,373.24 L155.59,373.09 L156.09,372.93 L156.60,372.74 L157.10,372.56 L157.61,372.38 L158.11,372.20 L158.62,372.01 L159.12,371.80 L159.63,371.58 L160.13,371.34 L160.63,371.09 L161.14,370.81 L161.64,370.52 L162.15,370.20 L162.65,369.86 L163.16,369.46 L163.66,368.99 L164.17,368.45 L164.67,367.86 L165.18,367.24 L165.68,366.59 L166.19,365.94 L166.69,365.30 L167.20,364.68 L167.70,364.10 L168.20,363.53 L168.71,362.94 L169.21,362.35 L169.72,361.80 L170.22,361.29 L170.73,360.86 L171.23,360.49 L171.74,360.13 L172.24,359.81 L172.75,359.52 L173.25,359.27 L173.76,359.06 L174.26,358.88 L174.77,358.72 L175.27,358.58 L175.77,358.45 L176.28,358.33 L176.78,358.21 L177.29,358.10 L177.79,357.98 L178.30,357.86 L178.80,357.74 L179.31,357.63 L179.81,357.52 L180.32,357.41 L180.82,357.31 L181.33,357.20 L181.83,357.10 L182.34,357.00 L182.84,356.90 L183.34,356.81 L183.85,356.73 L184.35,356.65 L184.86,356.57 L185.36,356.49 L185.87,356.40 L186.37,356.30 L186.88,356.18 L187.38,356.04 L187.89,355.88 L188.39,355.70 L188.90,355.50 L189.40,355.29 L189.91,355.05 L190.41,354.80 L190.91,354.53 L191.42,354.24 L191.92,353.94 L192.43,353.63 L192.93,353.30 L193.44,352.94 L193.94,352.53 L194.45,352.08 L194.95,351.58 L195.46,351.05 L195.96,350.49 L196.47,349.90 L196.97,349.29 L197.48,348.65 L197.98,348.01 L198.48,347.36 L198.99,346.70 L199.49,346.04 L200.00,345.38 L200.50,344.71 L201.01,344.02 L201.51,343.30 L202.02,342.56 L202.52,341.81 L203.03,341.03 L203.53,340.25 L204.04,339.45 L204.54,338.64 L205.05,337.83 L205.55,337.02 L206.05,336.20 L206.56,335.39 L207.06,334.58 L207.57,333.77 L208.07,332.96 L208.58,332.13 L209.08,331.31 L209.59,330.47 L210.09,329.63 L210.60,328.79 L211.10,327.94 L211.61,327.09 L212.11,326.23 L212.62,325.37 L213.12,324.50 L213.62,323.62 L214.13,322.71 L214.63,321.78 L215.14,320.84 L215.64,319.89 L216.15,318.94 L216.65,317.99 L217.16,317.05 L217.66,316.13 L218.17,315.22 L218.67,314.34 L219.18,313.49 L219.68,312.67 L220.19,311.90 L220.69,311.16 L221.19,310.43 L221.70,309.73 L222.20,309.04 L222.71,308.36 L223.21,307.70 L223.72,307.06 L224.22,306.42 L224.73,305.81 L225.23,305.20 L225.74,304.61 L226.24,304.03 L226.75,303.46 L227.25,302.90 L227.76,302.33 L228.26,301.73 L228.76,301.11 L229.27,300.47 L229.77,299.83 L230.28,299.19 L230.78,298.55 L231.29,297.93 L231.79,297.34 L232.30,296.77 L232.80,296.24 L233.31,295.76 L233.81,295.33 L234.32,294.97 L234.82,294.67 L235.33,294.45 L235.83,294.31 L236.33,294.26 L236.84,294.27 L237.34,294.28 L237.85,294.31 L238.35,294.36 L238.86,294.41 L239.36,294.47 L239.87,294.53 L240.37,294.61 L240.88,294.69 L241.38,294.78 L241.89,294.88 L242.39,294.98 L242.90,295.12 L243.40,295.33 L243.90,295.59 L244.41,295.91 L244.91,296.27 L245.42,296.66 L245.92,297.08 L246.43,297.52 L246.93,297.97 L247.44,298.42 L247.94,298.87 L248.45,299.30 L248.95,299.73 L249.46,300.18 L249.96,300.64 L250.47,301.11 L250.97,301.60 L251.47,302.11 L251.98,302.62 L252.48,303.15 L252.99,303.69 L253.49,304.23 L254.00,304.79 L254.50,305.35 L255.01,305.92 L255.51,306.50 L256.02,307.09 L256.52,307.69 L257.03,308.31 L257.53,308.94 L258.04,309.58 L258.54,310.23 L259.04,310.90 L259.55,311.58 L260.05,312.28 L260.56,312.98 L261.06,313.69 L261.57,314.42 L262.07,315.17 L262.58,315.94 L263.08,316.74 L263.59,317.57 L264.09,318.40 L264.60,319.25 L265.10,320.11 L265.61,320.97 L266.11,321.83 L266.61,322.68 L267.12,323.52 L267.62,324.35 L268.13,325.16 L268.63,325.94 L269.14,326.71 L269.64,327.47 L270.15,328.24 L270.65,329.00 L271.16,329.75 L271.66,330.50 L272.17,331.24 L272.67,331.97 L273.18,332.70 L273.68,333.42 L274.18,334.12 L274.69,334.82 L275.19,335.50 L275.70,336.17 L276.20,336.82 L276.71,337.46 L277.21,338.09 L277.72,338.72 L278.22,339.34 L278.73,339.96 L279.23,340.57 L279.74,341.17 L280.24,341.76 L280.75,342.33 L281.25,342.89 L281.75,343.43 L282.26,343.95 L282.76,344.45 L283.27,344.93 L283.77,345.38 L284.28,345.81 L284.78,346.23 L285.29,346.63 L285.79,347.01 L286.30,347.39 L286.80,347.75 L287.31,348.10 L287.81,348.45 L288.32,348.78 L288.82,349.12 L289.32,349.44 L289.83,349.77 L290.33,350.10 L290.84,350.42 L291.34,350.74 L291.85,351.07 L292.35,351.39 L292.86,351.71 L293.36,352.03 L293.87,352.35 L294.37,352.66 L294.88,352.97 L295.38,353.28 L295.89,353.59 L296.39,353.89 L296.89,354.19 L297.40,354.49 L297.90,354.79 L298.41,355.08 L298.91,355.36 L299.42,355.65 L299.92,355.92 L300.43,356.20 L300.93,356.47 L301.44,356.73 L301.94,356.99 L302.45,357.25 L302.95,357.50 L303.46,357.74 L303.96,357.98 L304.46,358.21 L304.97,358.44 L305.47,358.67 L305.98,358.88 L306.48,359.10 L306.99,359.31 L307.49,359.52 L308.00,359.72 L308.50,359.92 L309.01,360.12 L309.51,360.31 L310.02,360.50 L310.52,360.68 L311.03,360.86 L311.53,361.04 L312.03,361.22 L312.54,361.39 L313.04,361.56 L313.55,361.72 L314.05,361.88 L314.56,362.04 L315.06,362.19 L315.57,362.35 L316.07,362.50 L316.58,362.64 L317.08,362.79 L317.59,362.94 L318.09,363.08 L318.60,363.23 L319.10,363.38 L319.60,363.53 L320.11,363.69 L320.61,363.85 L321.12,364.01 L321.62,364.17 L322.13,364.32 L322.63,364.46 L323.14,364.59 L323.64,364.72 L324.15,364.82 L324.65,364.91 L325.16,364.98 L325.66,365.04 L326.17,365.10 L326.67,365.15 L327.17,365.21 L327.68,365.27 L328.18,365.35 L328.69,365.43 L329.19,365.54 L329.70,365.69 L330.20,365.91 L330.71,366.19 L331.21,366.51 L331.72,366.86 L332.22,367.24 L332.73,367.63 L333.23,368.02 L333.74,368.41 L334.24,368.78 L334.74,369.15 L335.25,369.54 L335.75,369.95 L336.26,370.37 L336.76,370.79 L337.27,371.21 L337.77,371.62 L338.28,372.02 L338.78,372.39 L339.29,372.74 L339.79,373.08 L340.30,373.41 L340.80,373.74 L341.31,374.07 L341.81,374.38 L342.31,374.68 L342.82,374.96 L343.32,375.21 L343.83,375.43 L344.33,375.62 L344.84,375.79 L345.34,375.94 L345.85,376.09 L346.35,376.23 L346.86,376.36 L347.36,376.48 L347.87,376.59 L348.37,376.70 L348.88,376.80 L349.38,376.89 L349.88,376.98 L350.39,377.06 L350.89,377.14 L351.40,377.22 L351.90,377.29 L352.41,377.36 L352.91,377.43 L353.42,377.49 L353.92,377.55 L354.43,377.60 L354.93,377.66 L355.44,377.70 L355.94,377.74 L356.45,377.78 L356.95,377.81 L357.45,377.85 L357.96,377.88 L358.46,377.91 L358.97,377.94 L359.47,377.97 L359.98,378.00 L360.48,378.03 L360.99,378.05 L361.49,378.07 L362.00,378.09 L362.50,378.11 L363.01,378.12 L363.51,378.13 L364.02,378.14 L364.52,378.14 L365.02,378.14 L365.53,378.14 L366.03,378.14 L366.54,378.14 L367.04,378.14 L367.55,378.14 L368.05,378.14 L368.56,378.14 L369.06,378.14 L369.57,378.14 L370.07,378.14 L370.58,378.14 L371.08,378.14 L371.59,378.14 L372.09,378.14 L372.59,378.14 L373.10,378.14 L373.60,378.14 L374.11,378.14 L374.61,378.14 L375.12,378.14 L375.62,378.14 L376.13,378.14 L376.63,378.14 L377.14,378.14 L377.64,378.14 L378.15,378.14 L378.65,378.14 L379.16,378.14 L379.66,378.14 L380.16,378.14 L380.67,378.14 L381.17,378.14 L381.68,378.14 L382.18,378.14 L382.69,378.14 L383.19,378.14 L383.70,378.14 L384.20,378.14 L384.71,378.14 L385.21,378.14 L385.72,378.14 L386.22,378.14 L386.73,378.14 L387.23,378.14 L387.73,378.14 L388.24,378.14 L388.74,378.14 L389.25,378.14 L389.75,378.14 L390.26,378.14 L390.76,378.14 L391.27,378.14 L391.77,378.14 L392.28,378.14 L392.78,378.14 L393.29,378.14 L393.79,378.14 L394.30,378.14 L394.80,378.14" fill="none" stroke="#2e7a3c" stroke-width="0.9" stroke-linejoin="round"/>
<path d="M102.09,364.82 L102.60,365.03 L103.10,365.24 L103.61,365.45 L104.11,365.64 L104.62,365.83 L105.12,366.02 L105.63,366.19 L106.13,366.34 L106.64,366.49 L107.14,366.62 L107.64,366.74 L108.15,366.86 L108.65,366.97 L109.16,367.08 L109.66,367.19 L110.17,367.29 L110.67,367.39 L111.18,367.48 L111.68,367.57 L112.19,367.65 L112.69,367.73 L113.20,367.81 L113.70,367.88 L114.21,367.94 L114.71,368.00 L115.21,368.06 L115.72,368.11 L116.22,368.16 L116.73,368.21 L117.23,368.26 L117.74,368.30 L118.24,368.35 L118.75,368.39 L119.25,368.42 L119.76,368.46 L120.26,368.49 L120.77,368.52 L121.27,368.55 L121.78,368.58 L122.28,368.60 L122.78,368.62 L123.29,368.64 L123.79,368.66 L124.30,368.68 L124.80,368.70 L125.31,368.72 L125.81,368.74 L126.32,368.75 L126.82,368.76 L127.33,368.77 L127.83,368.78 L128.34,368.78 L128.84,368.78 L129.35,368.78 L129.85,368.78 L130.35,368.78 L130.86,368.78 L131.36,368.78 L131.87,368.78 L132.37,368.78 L132.88,368.81 L133.38,368.89 L133.89,369.02 L134.39,369.17 L134.90,369.35 L135.40,369.53 L135.91,369.70 L136.41,369.86 L136.92,370.01 L137.42,370.17 L137.92,370.33 L138.43,370.49 L138.93,370.65 L139.44,370.82 L139.94,370.99 L140.45,371.15 L140.95,371.32 L141.46,371.48 L141.96,371.64 L142.47,371.81 L142.97,371.99 L143.48,372.16 L143.98,372.32 L144.49,372.47 L144.99,372.62 L145.49,372.74 L146.00,372.86 L146.50,372.98 L147.01,373.10 L147.51,373.21 L148.02,373.31 L148.52,373.39 L149.03,373.44 L149.53,373.46 L150.04,373.46 L150.54,373.46 L151.05,373.46 L151.55,373.46 L152.06,373.46 L152.56,373.46 L153.06,373.46 L153.57,373.46 L154.07,373.43 L154.58,373.36 L155.08,373.25 L155.59,373.11 L156.09,372.94 L156.60,372.76 L157.10,372.57 L157.61,372.38 L158.11,372.18 L158.62,371.95 L159.12,371.69 L159.63,371.41 L160.13,371.10 L160.63,370.76 L161.14,370.40 L161.64,370.01 L162.15,369.59 L162.65,369.14 L163.16,368.62 L163.66,367.99 L164.17,367.27 L164.67,366.47 L165.18,365.63 L165.68,364.74 L166.19,363.84 L166.69,362.94 L167.20,362.06 L167.70,361.22 L168.20,360.36 L168.71,359.46 L169.21,358.55 L169.72,357.67 L170.22,356.86 L170.73,356.18 L171.23,355.58 L171.74,355.01 L172.24,354.48 L172.75,354.01 L173.25,353.61 L173.76,353.30 L174.26,353.05 L174.77,352.83 L175.27,352.63 L175.77,352.45 L176.28,352.29 L176.78,352.14 L177.29,352.00 L177.79,351.86 L178.30,351.73 L178.80,351.61 L179.31,351.50 L179.81,351.40 L180.32,351.30 L180.82,351.20 L181.33,351.10 L181.83,351.00 L182.34,350.90 L182.84,350.78 L183.34,350.66 L183.85,350.54 L184.35,350.42 L184.86,350.30 L185.36,350.17 L185.87,350.03 L186.37,349.87 L186.88,349.70 L187.38,349.51 L187.89,349.29 L188.39,349.06 L188.90,348.80 L189.40,348.52 L189.91,348.23 L190.41,347.91 L190.91,347.58 L191.42,347.24 L191.92,346.87 L192.43,346.49 L192.93,346.10 L193.44,345.68 L193.94,345.21 L194.45,344.69 L194.95,344.14 L195.46,343.56 L195.96,342.95 L196.47,342.31 L196.97,341.66 L197.48,340.98 L197.98,340.29 L198.48,339.60 L198.99,338.90 L199.49,338.17 L200.00,337.38 L200.50,336.55 L201.01,335.69 L201.51,334.80 L202.02,333.90 L202.52,332.99 L203.03,332.10 L203.53,331.22 L204.04,330.38 L204.54,329.57 L205.05,328.82 L205.55,328.11 L206.05,327.43 L206.56,326.77 L207.06,326.14 L207.57,325.52 L208.07,324.91 L208.58,324.31 L209.08,323.72 L209.59,323.13 L210.09,322.54 L210.60,321.94 L211.10,321.34 L211.61,320.72 L212.11,320.08 L212.62,319.42 L213.12,318.74 L213.62,318.03 L214.13,317.29 L214.63,316.52 L215.14,315.74 L215.64,314.94 L216.15,314.13 L216.65,313.32 L217.16,312.51 L217.66,311.71 L218.17,310.91 L218.67,310.13 L219.18,309.38 L219.68,308.64 L220.19,307.94 L220.69,307.26 L221.19,306.57 L221.70,305.90 L222.20,305.23 L222.71,304.57 L223.21,303.92 L223.72,303.28 L224.22,302.66 L224.73,302.05 L225.23,301.46 L225.74,300.88 L226.24,300.33 L226.75,299.80 L227.25,299.30 L227.76,298.80 L228.26,298.27 L228.76,297.73 L229.27,297.18 L229.77,296.64 L230.28,296.10 L230.78,295.58 L231.29,295.08 L231.79,294.61 L232.30,294.18 L232.80,293.80 L233.31,293.46 L233.81,293.19 L234.32,292.99 L234.82,292.86 L235.33,292.82 L235.83,292.83 L236.33,292.85 L236.84,292.88 L237.34,292.92 L237.85,292.97 L238.35,293.03 L238.86,293.10 L239.36,293.17 L239.87,293.26 L240.37,293.35 L240.88,293.44 L241.38,293.54 L241.89,293.67 L242.39,293.87 L242.90,294.11 L243.40,294.41 L243.90,294.74 L244.41,295.11 L244.91,295.51 L245.42,295.93 L245.92,296.37 L246.43,296.82 L246.93,297.27 L247.44,297.72 L247.94,298.16 L248.45,298.58 L248.95,299.00 L249.46,299.43 L249.96,299.87 L250.47,300.31 L250.97,300.77 L251.47,301.24 L251.98,301.72 L252.48,302.21 L252.99,302.71 L253.49,303.23 L254.00,303.76 L254.50,304.30 L255.01,304.85 L255.51,305.42 L256.02,306.01 L256.52,306.62 L257.03,307.26 L257.53,307.92 L258.04,308.60 L258.54,309.30 L259.04,310.01 L259.55,310.73 L260.05,311.47 L260.56,312.21 L261.06,312.95 L261.57,313.70 L262.07,314.46 L262.58,315.25 L263.08,316.05 L263.59,316.87 L264.09,317.71 L264.60,318.55 L265.10,319.40 L265.61,320.26 L266.11,321.11 L266.61,321.95 L267.12,322.79 L267.62,323.62 L268.13,324.43 L268.63,325.22 L269.14,326.00 L269.64,326.79 L270.15,327.57 L270.65,328.35 L271.16,329.13 L271.66,329.91 L272.17,330.68 L272.67,331.44 L273.18,332.20 L273.68,332.94 L274.18,333.67 L274.69,334.39 L275.19,335.09 L275.70,335.78 L276.20,336.45 L276.71,337.10 L277.21,337.74 L277.72,338.37 L278.22,339.00 L278.73,339.62 L279.23,340.23 L279.74,340.83 L280.24,341.41 L280.75,341.98 L281.25,342.54 L281.75,343.07 L282.26,343.59 L282.76,344.09 L283.27,344.57 L283.77,345.02 L284.28,345.45 L284.78,345.87 L285.29,346.27 L285.79,346.65 L286.30,347.03 L286.80,347.39 L287.31,347.74 L287.81,348.09 L288.32,348.42 L288.82,348.76 L289.32,349.08 L289.83,349.41 L290.33,349.74 L290.84,350.06 L291.34,350.38 L291.85,350.71 L292.35,351.03 L292.86,351.34 L293.36,351.66 L293.87,351.97 L294.37,352.28 L294.88,352.59 L295.38,352.89 L295.89,353.19 L296.39,353.49 L296.89,353.79 L297.40,354.08 L297.90,354.37 L298.41,354.66 L298.91,354.94 L299.42,355.23 L299.92,355.50 L300.43,355.78 L300.93,356.05 L301.44,356.32 L301.94,356.59 L302.45,356.85 L302.95,357.11 L303.46,357.37 L303.96,357.62 L304.46,357.87 L304.97,358.12 L305.47,358.37 L305.98,358.61 L306.48,358.85 L306.99,359.09 L307.49,359.33 L308.00,359.56 L308.50,359.78 L309.01,360.01 L309.51,360.22 L310.02,360.44 L310.52,360.64 L311.03,360.84 L311.53,361.03 L312.03,361.22 L312.54,361.40 L313.04,361.57 L313.55,361.74 L314.05,361.90 L314.56,362.06 L315.06,362.21 L315.57,362.36 L316.07,362.51 L316.58,362.65 L317.08,362.80 L317.59,362.94 L318.09,363.09 L318.60,363.23 L319.10,363.38 L319.60,363.53 L320.11,363.68 L320.61,363.83 L321.12,363.98 L321.62,364.13 L322.13,364.28 L322.63,364.42 L323.14,364.56 L323.64,364.69 L324.15,364.82 L324.65,364.94 L325.16,365.04 L325.66,365.13 L326.17,365.22 L326.67,365.31 L327.17,365.41 L327.68,365.51 L328.18,365.62 L328.69,365.75 L329.19,365.90 L329.70,366.09 L330.20,366.33 L330.71,366.61 L331.21,366.93 L331.72,367.28 L332.22,367.64 L332.73,368.02 L333.23,368.40 L333.74,368.78 L334.24,369.14 L334.74,369.51 L335.25,369.91 L335.75,370.33 L336.26,370.75 L336.76,371.18 L337.27,371.60 L337.77,372.02 L338.28,372.41 L338.78,372.77 L339.29,373.10 L339.79,373.41 L340.30,373.70 L340.80,373.99 L341.31,374.27 L341.81,374.54 L342.31,374.79 L342.82,375.03 L343.32,375.25 L343.83,375.44 L344.33,375.62 L344.84,375.78 L345.34,375.93 L345.85,376.08 L346.35,376.21 L346.86,376.34 L347.36,376.47 L347.87,376.58 L348.37,376.69 L348.88,376.79 L349.38,376.89 L349.88,376.98 L350.39,377.06 L350.89,377.14 L351.40,377.22 L351.90,377.29 L352.41,377.36 L352.91,377.43 L353.42,377.49 L353.92,377.55 L354.43,377.60 L354.93,377.66 L355.44,377.70 L355.94,377.74 L356.45,377.78 L356.95,377.81 L357.45,377.85 L357.96,377.88 L358.46,377.91 L358.97,377.94 L359.47,377.97 L359.98,378.00 L360.48,378.03 L360.99,378.05 L361.49,378.07 L362.00,378.09 L362.50,378.11 L363.01,378.12 L363.51,378.13 L364.02,378.14 L364.52,378.14 L365.02,378.14 L365.53,378.14 L366.03,378.14 L366.54,378.14 L367.04,378.14 L367.55,378.14 L368.05,378.14 L368.56,378.14 L369.06,378.14 L369.57,378.14 L370.07,378.14 L370.58,378.14 L371.08,378.14 L371.59,378.14 L372.09,378.14 L372.59,378.14 L373.10,378.14 L373.60,378.14 L374.11,378.14 L374.61,378.14 L375.12,378.14 L375.62,378.14 L376.13,378.14 L376.63,378.14 L377.14,378.14 L377.64,378.14 L378.15,378.14 L378.65,378.14 L379.16,378.14 L379.66,378.14 L380.16,378.14 L380.67,378.14 L381.17,378.14 L381.68,378.14 L382.18,378.14 L382.69,378.14 L383.19,378.14 L383.70,378.14 L384.20,378.14 L384.71,378.14 L385.21,378.14 L385.72,378.14 L386.22,378.14 L386.73,378.14 L387.23,378.14 L387.73,378.14 L388.24,378.14 L388.74,378.14 L389.25,378.14 L389.75,378.14 L390.26,378.14 L390.76,378.14 L391.27,378.14 L391.77,378.14 L392.28,378.14 L392.78,378.14 L393.29,378.14 L393.79,378.14 L394.30,378.14 L394.80,378.14" fill="none" stroke="#9acd3a" stroke-width="0.9" stroke-linejoin="round"/>
<path d="M102.09,364.82 L102.60,365.03 L103.10,365.24 L103.61,365.45 L104.11,365.64 L104.62,365.83 L105.12,366.02 L105.63,366.19 L106.13,366.34 L106.64,366.49 L107.14,366.62 L107.64,366.74 L108.15,366.86 L108.65,366.97 L109.16,367.08 L109.66,367.19 L110.17,367.29 L110.67,367.39 L111.18,367.48 L111.68,367.57 L112.19,367.65 L112.69,367.73 L113.20,367.81 L113.70,367.88 L114.21,367.94 L114.71,368.00 L115.21,368.06 L115.72,368.11 L116.22,368.16 L116.73,368.21 L117.23,368.26 L117.74,368.30 L118.24,368.35 L118.75,368.39 L119.25,368.42 L119.76,368.46 L120.26,368.49 L120.77,368.52 L121.27,368.55 L121.78,368.58 L122.28,368.60 L122.78,368.62 L123.29,368.64 L123.79,368.66 L124.30,368.68 L124.80,368.70 L125.31,368.72 L125.81,368.74 L126.32,368.75 L126.82,368.76 L127.33,368.77 L127.83,368.78 L128.34,368.78 L128.84,368.78 L129.35,368.78 L129.85,368.78 L130.35,368.78 L130.86,368.78 L131.36,368.78 L131.87,368.78 L132.37,368.78 L132.88,368.81 L133.38,368.89 L133.89,369.02 L134.39,369.17 L134.90,369.35 L135.40,369.53 L135.91,369.70 L136.41,369.86 L136.92,370.01 L137.42,370.17 L137.92,370.33 L138.43,370.49 L138.93,370.65 L139.44,370.82 L139.94,370.99 L140.45,371.15 L140.95,371.32 L141.46,371.48 L141.96,371.64 L142.47,371.81 L142.97,371.99 L143.48,372.16 L143.98,372.32 L144.49,372.47 L144.99,372.62 L145.49,372.74 L146.00,372.86 L146.50,372.98 L147.01,373.10 L147.51,373.21 L148.02,373.31 L148.52,373.39 L149.03,373.44 L149.53,373.46 L150.04,373.46 L150.54,373.46 L151.05,373.46 L151.55,373.46 L152.06,373.46 L152.56,373.46 L153.06,373.46 L153.57,373.46 L154.07,373.44 L154.58,373.37 L155.08,373.26 L155.59,373.13 L156.09,372.96 L156.60,372.78 L157.10,372.58 L157.61,372.38 L158.11,372.14 L158.62,371.84 L159.12,371.49 L159.63,371.08 L160.13,370.62 L160.63,370.11 L161.14,369.56 L161.64,368.97 L162.15,368.35 L162.65,367.70 L163.16,366.95 L163.66,366.05 L164.17,365.03 L164.67,363.90 L165.18,362.69 L165.68,361.42 L166.19,360.11 L166.69,358.78 L167.20,357.47 L167.70,356.18 L168.20,354.81 L168.71,353.31 L169.21,351.76 L169.72,350.28 L170.22,348.96 L170.73,347.90 L171.23,347.01 L171.74,346.17 L172.24,345.40 L172.75,344.75 L173.25,344.25 L173.76,343.94 L174.26,343.75 L174.77,343.59 L175.27,343.44 L175.77,343.32 L176.28,343.22 L176.78,343.14 L177.29,343.08 L177.79,343.04 L178.30,343.01 L178.80,342.99 L179.31,342.98 L179.81,342.96 L180.32,342.95 L180.82,342.94 L181.33,342.93 L181.83,342.91 L182.34,342.89 L182.84,342.86 L183.34,342.79 L183.85,342.66 L184.35,342.47 L184.86,342.23 L185.36,341.97 L185.87,341.68 L186.37,341.37 L186.88,341.06 L187.38,340.72 L187.89,340.31 L188.39,339.85 L188.90,339.35 L189.40,338.80 L189.91,338.23 L190.41,337.63 L190.91,337.02 L191.42,336.40 L191.92,335.78 L192.43,335.17 L192.93,334.58 L193.44,333.99 L193.94,333.38 L194.45,332.75 L194.95,332.12 L195.46,331.47 L195.96,330.82 L196.47,330.17 L196.97,329.52 L197.48,328.88 L197.98,328.25 L198.48,327.63 L198.99,327.02 L199.49,326.43 L200.00,325.85 L200.50,325.27 L201.01,324.71 L201.51,324.15 L202.02,323.59 L202.52,323.04 L203.03,322.49 L203.53,321.94 L204.04,321.39 L204.54,320.84 L205.05,320.29 L205.55,319.73 L206.05,319.17 L206.56,318.60 L207.06,318.02 L207.57,317.44 L208.07,316.85 L208.58,316.26 L209.08,315.67 L209.59,315.08 L210.09,314.48 L210.60,313.88 L211.10,313.27 L211.61,312.66 L212.11,312.05 L212.62,311.44 L213.12,310.82 L213.62,310.20 L214.13,309.57 L214.63,308.93 L215.14,308.29 L215.64,307.65 L216.15,307.01 L216.65,306.36 L217.16,305.71 L217.66,305.06 L218.17,304.41 L218.67,303.76 L219.18,303.11 L219.68,302.46 L220.19,301.82 L220.69,301.16 L221.19,300.47 L221.70,299.75 L222.20,299.02 L222.71,298.28 L223.21,297.55 L223.72,296.83 L224.22,296.12 L224.73,295.45 L225.23,294.82 L225.74,294.23 L226.24,293.69 L226.75,293.22 L227.25,292.82 L227.76,292.46 L228.26,292.10 L228.76,291.74 L229.27,291.39 L229.77,291.05 L230.28,290.72 L230.78,290.41 L231.29,290.12 L231.79,289.85 L232.30,289.61 L232.80,289.39 L233.31,289.21 L233.81,289.06 L234.32,288.95 L234.82,288.88 L235.33,288.86 L235.83,288.87 L236.33,288.90 L236.84,288.95 L237.34,289.01 L237.85,289.09 L238.35,289.19 L238.86,289.29 L239.36,289.41 L239.87,289.53 L240.37,289.66 L240.88,289.80 L241.38,289.94 L241.89,290.11 L242.39,290.32 L242.90,290.58 L243.40,290.87 L243.90,291.20 L244.41,291.55 L244.91,291.94 L245.42,292.34 L245.92,292.76 L246.43,293.20 L246.93,293.64 L247.44,294.09 L247.94,294.54 L248.45,294.98 L248.95,295.43 L249.46,295.91 L249.96,296.40 L250.47,296.92 L250.97,297.46 L251.47,298.01 L251.98,298.58 L252.48,299.16 L252.99,299.76 L253.49,300.37 L254.00,300.99 L254.50,301.62 L255.01,302.26 L255.51,302.90 L256.02,303.56 L256.52,304.24 L257.03,304.94 L257.53,305.66 L258.04,306.39 L258.54,307.15 L259.04,307.91 L259.55,308.69 L260.05,309.48 L260.56,310.28 L261.06,311.09 L261.57,311.90 L262.07,312.73 L262.58,313.60 L263.08,314.49 L263.59,315.40 L264.09,316.32 L264.60,317.26 L265.10,318.20 L265.61,319.14 L266.11,320.08 L266.61,321.00 L267.12,321.91 L267.62,322.80 L268.13,323.67 L268.63,324.50 L269.14,325.31 L269.64,326.12 L270.15,326.91 L270.65,327.70 L271.16,328.48 L271.66,329.25 L272.17,330.01 L272.67,330.76 L273.18,331.50 L273.68,332.23 L274.18,332.95 L274.69,333.66 L275.19,334.36 L275.70,335.04 L276.20,335.72 L276.71,336.38 L277.21,337.04 L277.72,337.69 L278.22,338.35 L278.73,339.00 L279.23,339.64 L279.74,340.27 L280.24,340.89 L280.75,341.49 L281.25,342.08 L281.75,342.64 L282.26,343.19 L282.76,343.70 L283.27,344.20 L283.77,344.66 L284.28,345.10 L284.78,345.52 L285.29,345.92 L285.79,346.30 L286.30,346.67 L286.80,347.03 L287.31,347.38 L287.81,347.72 L288.32,348.06 L288.82,348.39 L289.32,348.71 L289.83,349.04 L290.33,349.37 L290.84,349.70 L291.34,350.03 L291.85,350.36 L292.35,350.69 L292.86,351.02 L293.36,351.35 L293.87,351.68 L294.37,352.00 L294.88,352.33 L295.38,352.65 L295.89,352.97 L296.39,353.29 L296.89,353.60 L297.40,353.91 L297.90,354.22 L298.41,354.52 L298.91,354.83 L299.42,355.12 L299.92,355.42 L300.43,355.71 L300.93,356.00 L301.44,356.28 L301.94,356.56 L302.45,356.83 L302.95,357.10 L303.46,357.36 L303.96,357.62 L304.46,357.87 L304.97,358.13 L305.47,358.38 L305.98,358.62 L306.48,358.86 L306.99,359.10 L307.49,359.34 L308.00,359.57 L308.50,359.79 L309.01,360.01 L309.51,360.23 L310.02,360.44 L310.52,360.64 L311.03,360.84 L311.53,361.03 L312.03,361.22 L312.54,361.40 L313.04,361.57 L313.55,361.74 L314.05,361.90 L314.56,362.06 L315.06,362.21 L315.57,362.36 L316.07,362.51 L316.58,362.65 L317.08,362.80 L317.59,362.94 L318.09,363.09 L318.60,363.23 L319.10,363.38 L319.60,363.53 L320.11,363.68 L320.61,363.83 L321.12,363.98 L321.62,364.13 L322.13,364.28 L322.63,364.42 L323.14,364.56 L323.64,364.69 L324.15,364.82 L324.65,364.94 L325.16,365.04 L325.66,365.13 L326.17,365.22 L326.67,365.31 L327.17,365.41 L327.68,365.51 L328.18,365.62 L328.69,365.75 L329.19,365.90 L329.70,366.09 L330.20,366.33 L330.71,366.61 L331.21,366.93 L331.72,367.28 L332.22,367.64 L332.73,368.02 L333.23,368.40 L333.74,368.78 L334.24,369.14 L334.74,369.51 L335.25,369.91 L335.75,370.33 L336.26,370.75 L336.76,371.18 L337.27,371.60 L337.77,372.02 L338.28,372.41 L338.78,372.77 L339.29,373.10 L339.79,373.41 L340.30,373.70 L340.80,373.99 L341.31,374.27 L341.81,374.54 L342.31,374.79 L342.82,375.03 L343.32,375.25 L343.83,375.44 L344.33,375.62 L344.84,375.78 L345.34,375.93 L345.85,376.08 L346.35,376.21 L346.86,376.34 L347.36,376.47 L347.87,376.58 L348.37,376.69 L348.88,376.79 L349.38,376.89 L349.88,376.98 L350.39,377.06 L350.89,377.14 L351.40,377.22 L351.90,377.29 L352.41,377.36 L352.91,377.43 L353.42,377.49 L353.92,377.55 L354.43,377.60 L354.93,377.66 L355.44,377.70 L355.94,377.74 L356.45,377.78 L356.95,377.81 L357.45,377.85 L357.96,377.88 L358.46,377.91 L358.97,377.94 L359.47,377.97 L359.98,378.00 L360.48,378.03 L360.99,378.05 L361.49,378.07 L362.00,378.09 L362.50,378.11 L363.01,378.12 L363.51,378.13 L364.02,378.14 L364.52,378.14 L365.02,378.14 L365.53,378.14 L366.03,378.14 L366.54,378.14 L367.04,378.14 L367.55,378.14 L368.05,378.14 L368.56,378.14 L369.06,378.14 L369.57,378.14 L370.07,378.14 L370.58,378.14 L371.08,378.14 L371.59,378.14 L372.09,378.14 L372.59,378.14 L373.10,378.14 L373.60,378.14 L374.11,378.14 L374.61,378.14 L375.12,378.14 L375.62,378.14 L376.13,378.14 L376.63,378.14 L377.14,378.14 L377.64,378.14 L378.15,378.14 L378.65,378.14 L379.16,378.14 L379.66,378.14 L380.16,378.14 L380.67,378.14 L381.17,378.14 L381.68,378.14 L382.18,378.14 L382.69,378.14 L383.19,378.14 L383.70,378.14 L384.20,378.14 L384.71,378.14 L385.21,378.14 L385.72,378.14 L386.22,378.14 L386.73,378.14 L387.23,378.14 L387.73,378.14 L388.24,378.14 L388.74,378.14 L389.25,378.14 L389.75,378.14 L390.26,378.14 L390.76,378.14 L391.27,378.14 L391.77,378.14 L392.28,378.14 L392.78,378.14 L393.29,378.14 L393.79,378.14 L394.30,378.14 L394.80,378.14" fill="none" stroke="#8444b4" stroke-width="0.9" stroke-linejoin="round"/>
<path d="M102.09,364.82 L102.60,365.03 L103.10,365.24 L103.61,365.45 L104.11,365.64 L104.62,365.83 L105.12,366.02 L105.63,366.19 L106.13,366.34 L106.64,366.49 L107.14,366.62 L107.64,366.74 L108.15,366.86 L108.65,366.97 L109.16,367.08 L109.66,367.19 L110.17,367.29 L110.67,367.39 L111.18,367.48 L111.68,367.57 L112.19,367.65 L112.69,367.73 L113.20,367.81 L113.70,367.88 L114.21,367.94 L114.71,368.00 L115.21,368.06 L115.72,368.11 L116.22,368.16 L116.73,368.21 L117.23,368.26 L117.74,368.30 L118.24,368.35 L118.75,368.39 L119.25,368.42 L119.76,368.46 L120.26,368.49 L120.77,368.52 L121.27,368.55 L121.78,368.58 L122.28,368.60 L122.78,368.62 L123.29,368.64 L123.79,368.66 L124.30,368.68 L124.80,368.70 L125.31,368.72 L125.81,368.74 L126.32,368.75 L126.82,368.76 L127.33,368.77 L127.83,368.78 L128.34,368.78 L128.84,368.78 L129.35,368.78 L129.85,368.78 L130.35,368.78 L130.86,368.78 L131.36,368.78 L131.87,368.78 L132.37,368.78 L132.88,368.81 L133.38,368.89 L133.89,369.02 L134.39,369.17 L134.90,369.35 L135.40,369.53 L135.91,369.70 L136.41,369.86 L136.92,370.01 L137.42,370.17 L137.92,370.33 L138.43,370.49 L138.93,370.65 L139.44,370.82 L139.94,370.99 L140.45,371.15 L140.95,371.32 L141.46,371.48 L141.96,371.64 L142.47,371.81 L142.97,371.99 L143.48,372.16 L143.98,372.32 L144.49,372.47 L144.99,372.62 L145.49,372.74 L146.00,372.86 L146.50,372.98 L147.01,373.10 L147.51,373.21 L148.02,373.31 L148.52,373.39 L149.03,373.44 L149.53,373.46 L150.04,373.46 L150.54,373.46 L151.05,373.46 L151.55,373.46 L152.06,373.46 L152.56,373.46 L153.06,373.46 L153.57,373.46 L154.07,373.44 L154.58,373.37 L155.08,373.27 L155.59,373.14 L156.09,372.98 L156.60,372.79 L157.10,372.59 L157.61,372.38 L158.11,372.11 L158.62,371.75 L159.12,371.29 L159.63,370.74 L160.13,370.11 L160.63,369.41 L161.14,368.63 L161.64,367.78 L162.15,366.87 L162.65,365.90 L163.16,364.68 L163.66,363.06 L164.17,361.11 L164.67,358.90 L165.18,356.51 L165.68,354.01 L166.19,351.46 L166.69,348.95 L167.20,346.54 L167.70,344.30 L168.20,342.08 L168.71,339.75 L169.21,337.43 L169.72,335.24 L170.22,333.29 L170.73,331.70 L171.23,330.36 L171.74,329.10 L172.24,327.96 L172.75,326.97 L173.25,326.16 L173.76,325.58 L174.26,325.12 L174.77,324.70 L175.27,324.33 L175.77,324.04 L176.28,323.85 L176.78,323.78 L177.29,323.78 L177.79,323.78 L178.30,323.78 L178.80,323.78 L179.31,323.78 L179.81,323.78 L180.32,323.78 L180.82,323.78 L181.33,323.74 L181.83,323.62 L182.34,323.44 L182.84,323.19 L183.34,322.89 L183.85,322.55 L184.35,322.17 L184.86,321.76 L185.36,321.34 L185.87,320.90 L186.37,320.34 L186.88,319.58 L187.38,318.67 L187.89,317.63 L188.39,316.53 L188.90,315.41 L189.40,314.30 L189.91,313.26 L190.41,312.32 L190.91,311.54 L191.42,310.86 L191.92,310.19 L192.43,309.55 L192.93,308.93 L193.44,308.33 L193.94,307.76 L194.45,307.22 L194.95,306.72 L195.46,306.24 L195.96,305.81 L196.47,305.41 L196.97,305.06 L197.48,304.74 L197.98,304.45 L198.48,304.18 L198.99,303.92 L199.49,303.69 L200.00,303.46 L200.50,303.25 L201.01,303.03 L201.51,302.83 L202.02,302.62 L202.52,302.40 L203.03,302.18 L203.53,301.96 L204.04,301.76 L204.54,301.57 L205.05,301.39 L205.55,301.20 L206.05,301.00 L206.56,300.79 L207.06,300.56 L207.57,300.31 L208.07,300.02 L208.58,299.68 L209.08,299.26 L209.59,298.78 L210.09,298.24 L210.60,297.67 L211.10,297.05 L211.61,296.42 L212.11,295.77 L212.62,295.11 L213.12,294.46 L213.62,293.82 L214.13,293.21 L214.63,292.63 L215.14,292.10 L215.64,291.59 L216.15,291.10 L216.65,290.61 L217.16,290.13 L217.66,289.65 L218.17,289.19 L218.67,288.73 L219.18,288.29 L219.68,287.85 L220.19,287.42 L220.69,287.00 L221.19,286.58 L221.70,286.18 L222.20,285.77 L222.71,285.38 L223.21,284.99 L223.72,284.60 L224.22,284.22 L224.73,283.84 L225.23,283.47 L225.74,283.10 L226.24,282.74 L226.75,282.38 L227.25,282.02 L227.76,281.64 L228.26,281.23 L228.76,280.80 L229.27,280.36 L229.77,279.92 L230.28,279.49 L230.78,279.08 L231.29,278.70 L231.79,278.37 L232.30,278.09 L232.80,277.88 L233.31,277.75 L233.81,277.70 L234.32,277.71 L234.82,277.75 L235.33,277.81 L235.83,277.88 L236.33,277.98 L236.84,278.09 L237.34,278.21 L237.85,278.34 L238.35,278.48 L238.86,278.63 L239.36,278.78 L239.87,278.96 L240.37,279.18 L240.88,279.44 L241.38,279.74 L241.89,280.08 L242.39,280.45 L242.90,280.85 L243.40,281.27 L243.90,281.72 L244.41,282.18 L244.91,282.67 L245.42,283.16 L245.92,283.67 L246.43,284.18 L246.93,284.73 L247.44,285.33 L247.94,285.98 L248.45,286.68 L248.95,287.43 L249.46,288.20 L249.96,289.01 L250.47,289.84 L250.97,290.68 L251.47,291.54 L251.98,292.41 L252.48,293.27 L252.99,294.13 L253.49,294.98 L254.00,295.83 L254.50,296.71 L255.01,297.60 L255.51,298.51 L256.02,299.44 L256.52,300.37 L257.03,301.32 L257.53,302.27 L258.04,303.22 L258.54,304.17 L259.04,305.12 L259.55,306.07 L260.05,307.01 L260.56,307.94 L261.06,308.87 L261.57,309.80 L262.07,310.74 L262.58,311.69 L263.08,312.63 L263.59,313.58 L264.09,314.53 L264.60,315.47 L265.10,316.41 L265.61,317.34 L266.11,318.26 L266.61,319.18 L267.12,320.08 L267.62,320.97 L268.13,321.84 L268.63,322.70 L269.14,323.55 L269.64,324.39 L270.15,325.23 L270.65,326.06 L271.16,326.89 L271.66,327.71 L272.17,328.52 L272.67,329.32 L273.18,330.11 L273.68,330.89 L274.18,331.66 L274.69,332.42 L275.19,333.16 L275.70,333.89 L276.20,334.60 L276.71,335.30 L277.21,335.99 L277.72,336.68 L278.22,337.36 L278.73,338.03 L279.23,338.70 L279.74,339.36 L280.24,340.00 L280.75,340.62 L281.25,341.23 L281.75,341.82 L282.26,342.39 L282.76,342.93 L283.27,343.45 L283.77,343.94 L284.28,344.41 L284.78,344.85 L285.29,345.28 L285.79,345.70 L286.30,346.10 L286.80,346.49 L287.31,346.87 L287.81,347.24 L288.32,347.60 L288.82,347.95 L289.32,348.30 L289.83,348.65 L290.33,349.00 L290.84,349.34 L291.34,349.68 L291.85,350.02 L292.35,350.36 L292.86,350.69 L293.36,351.02 L293.87,351.35 L294.37,351.67 L294.88,351.99 L295.38,352.30 L295.89,352.62 L296.39,352.93 L296.89,353.23 L297.40,353.54 L297.90,353.84 L298.41,354.14 L298.91,354.44 L299.42,354.73 L299.92,355.02 L300.43,355.31 L300.93,355.59 L301.44,355.88 L301.94,356.16 L302.45,356.44 L302.95,356.71 L303.46,356.99 L303.96,357.26 L304.46,357.53 L304.97,357.80 L305.47,358.08 L305.98,358.35 L306.48,358.62 L306.99,358.88 L307.49,359.14 L308.00,359.40 L308.50,359.66 L309.01,359.90 L309.51,360.15 L310.02,360.38 L310.52,360.60 L311.03,360.82 L311.53,361.03 L312.03,361.22 L312.54,361.40 L313.04,361.58 L313.55,361.75 L314.05,361.91 L314.56,362.07 L315.06,362.22 L315.57,362.37 L316.07,362.52 L316.58,362.66 L317.08,362.80 L317.59,362.95 L318.09,363.09 L318.60,363.23 L319.10,363.38 L319.60,363.53 L320.11,363.68 L320.61,363.83 L321.12,363.98 L321.62,364.13 L322.13,364.28 L322.63,364.42 L323.14,364.56 L323.64,364.69 L324.15,364.82 L324.65,364.94 L325.16,365.04 L325.66,365.13 L326.17,365.22 L326.67,365.31 L327.17,365.41 L327.68,365.51 L328.18,365.62 L328.69,365.75 L329.19,365.90 L329.70,366.09 L330.20,366.33 L330.71,366.61 L331.21,366.93 L331.72,367.28 L332.22,367.64 L332.73,368.02 L333.23,368.40 L333.74,368.78 L334.24,369.14 L334.74,369.51 L335.25,369.91 L335.75,370.33 L336.26,370.75 L336.76,371.18 L337.27,371.60 L337.77,372.02 L338.28,372.41 L338.78,372.77 L339.29,373.10 L339.79,373.41 L340.30,373.70 L340.80,373.99 L341.31,374.27 L341.81,374.54 L342.31,374.79 L342.82,375.03 L343.32,375.25 L343.83,375.44 L344.33,375.62 L344.84,375.78 L345.34,375.93 L345.85,376.08 L346.35,376.21 L346.86,376.34 L347.36,376.47 L347.87,376.58 L348.37,376.69 L348.88,376.79 L349.38,376.89 L349.88,376.98 L350.39,377.06 L350.89,377.14 L351.40,377.22 L351.90,377.29 L352.41,377.36 L352.91,377.43 L353.42,377.49 L353.92,377.55 L354.43,377.60 L354.93,377.66 L355.44,377.70 L355.94,377.74 L356.45,377.78 L356.95,377.81 L357.45,377.85 L357.96,377.88 L358.46,377.91 L358.97,377.94 L359.47,377.97 L359.98,378.00 L360.48,378.03 L360.99,378.05 L361.49,378.07 L362.00,378.09 L362.50,378.11 L363.01,378.12 L363.51,378.13 L364.02,378.14 L364.52,378.14 L365.02,378.14 L365.53,378.14 L366.03,378.14 L366.54,378.14 L367.04,378.14 L367.55,378.14 L368.05,378.14 L368.56,378.14 L369.06,378.14 L369.57,378.14 L370.07,378.14 L370.58,378.14 L371.08,378.14 L371.59,378.14 L372.09,378.14 L372.59,378.14 L373.10,378.14 L373.60,378.14 L374.11,378.14 L374.61,378.14 L375.12,378.14 L375.62,378.14 L376.13,378.14 L376.63,378.14 L377.14,378.14 L377.64,378.14 L378.15,378.14 L378.65,378.14 L379.16,378.14 L379.66,378.14 L380.16,378.14 L380.67,378.14 L381.17,378.14 L381.68,378.14 L382.18,378.14 L382.69,378.14 L383.19,378.14 L383.70,378.14 L384.20,378.14 L384.71,378.14 L385.21,378.14 L385.72,378.14 L386.22,378.14 L386.73,378.14 L387.23,378.14 L387.73,378.14 L388.24,378.14 L388.74,378.14 L389.25,378.14 L389.75,378.14 L390.26,378.14 L390.76,378.14 L391.27,378.14 L391.77,378.14 L392.28,378.14 L392.78,378.14 L393.29,378.14 L393.79,378.14 L394.30,378.14 L394.80,378.14" fill="none" stroke="#d485d6" stroke-width="0.9" stroke-linejoin="round"/>
<path d="M102.09,364.82 L102.60,365.03 L103.10,365.24 L103.61,365.45 L104.11,365.64 L104.62,365.83 L105.12,366.02 L105.63,366.19 L106.13,366.34 L106.64,366.49 L107.14,366.62 L107.64,366.74 L108.15,366.86 L108.65,366.97 L109.16,367.08 L109.66,367.19 L110.17,367.29 L110.67,367.39 L111.18,367.48 L111.68,367.57 L112.19,367.65 L112.69,367.73 L113.20,367.81 L113.70,367.88 L114.21,367.94 L114.71,368.00 L115.21,368.06 L115.72,368.11 L116.22,368.16 L116.73,368.21 L117.23,368.26 L117.74,368.30 L118.24,368.35 L118.75,368.39 L119.25,368.42 L119.76,368.46 L120.26,368.49 L120.77,368.52 L121.27,368.55 L121.78,368.58 L122.28,368.60 L122.78,368.62 L123.29,368.64 L123.79,368.66 L124.30,368.68 L124.80,368.70 L125.31,368.72 L125.81,368.74 L126.32,368.75 L126.82,368.76 L127.33,368.77 L127.83,368.78 L128.34,368.78 L128.84,368.78 L129.35,368.78 L129.85,368.78 L130.35,368.78 L130.86,368.78 L131.36,368.78 L131.87,368.78 L132.37,368.78 L132.88,368.81 L133.38,368.89 L133.89,369.02 L134.39,369.17 L134.90,369.35 L135.40,369.53 L135.91,369.70 L136.41,369.86 L136.92,370.01 L137.42,370.17 L137.92,370.33 L138.43,370.49 L138.93,370.65 L139.44,370.82 L139.94,370.99 L140.45,371.15 L140.95,371.32 L141.46,371.48 L141.96,371.64 L142.47,371.81 L142.97,371.99 L143.48,372.16 L143.98,372.32 L144.49,372.47 L144.99,372.62 L145.49,372.74 L146.00,372.86 L146.50,372.98 L147.01,373.10 L147.51,373.21 L148.02,373.31 L148.52,373.39 L149.03,373.44 L149.53,373.46 L150.04,373.46 L150.54,373.46 L151.05,373.46 L151.55,373.46 L152.06,373.46 L152.56,373.46 L153.06,373.46 L153.57,373.46 L154.07,373.44 L154.58,373.37 L155.08,373.28 L155.59,373.14 L156.09,372.98 L156.60,372.80 L157.10,372.60 L157.61,372.38 L158.11,372.09 L158.62,371.68 L159.12,371.14 L159.63,370.50 L160.13,369.76 L160.63,368.92 L161.14,368.00 L161.64,367.01 L162.15,365.94 L162.65,364.82 L163.16,363.44 L163.66,361.66 L164.17,359.53 L164.67,357.13 L165.18,354.52 L165.68,351.77 L166.19,348.95 L166.69,346.12 L167.20,343.35 L167.70,340.70 L168.20,337.94 L168.71,334.91 L169.21,331.84 L169.72,328.93 L170.22,326.42 L170.73,324.50 L171.23,323.03 L171.74,321.72 L172.24,320.56 L172.75,319.55 L173.25,318.71 L173.76,318.02 L174.26,317.41 L174.77,316.83 L175.27,316.31 L175.77,315.88 L176.28,315.60 L176.78,315.50 L177.29,315.56 L177.79,315.73 L178.30,315.96 L178.80,316.22 L179.31,316.48 L179.81,316.72 L180.32,316.88 L180.82,316.94 L181.33,316.85 L181.83,316.61 L182.34,316.25 L182.84,315.80 L183.34,315.28 L183.85,314.74 L184.35,314.20 L184.86,313.70 L185.36,313.21 L185.87,312.68 L186.37,312.12 L186.88,311.54 L187.38,310.94 L187.89,310.33 L188.39,309.70 L188.90,309.06 L189.40,308.42 L189.91,307.77 L190.41,307.13 L190.91,306.50 L191.42,305.86 L191.92,305.19 L192.43,304.50 L192.93,303.80 L193.44,303.10 L193.94,302.40 L194.45,301.71 L194.95,301.03 L195.46,300.37 L195.96,299.74 L196.47,299.14 L196.97,298.58 L197.48,298.05 L197.98,297.54 L198.48,297.05 L198.99,296.57 L199.49,296.10 L200.00,295.65 L200.50,295.21 L201.01,294.78 L201.51,294.37 L202.02,293.96 L202.52,293.57 L203.03,293.18 L203.53,292.81 L204.04,292.45 L204.54,292.10 L205.05,291.76 L205.55,291.42 L206.05,291.10 L206.56,290.78 L207.06,290.47 L207.57,290.15 L208.07,289.84 L208.58,289.53 L209.08,289.22 L209.59,288.91 L210.09,288.61 L210.60,288.32 L211.10,288.04 L211.61,287.76 L212.11,287.47 L212.62,287.19 L213.12,286.90 L213.62,286.60 L214.13,286.29 L214.63,285.96 L215.14,285.62 L215.64,285.26 L216.15,284.88 L216.65,284.49 L217.16,284.09 L217.66,283.67 L218.17,283.25 L218.67,282.81 L219.18,282.37 L219.68,281.93 L220.19,281.48 L220.69,281.03 L221.19,280.58 L221.70,280.11 L222.20,279.61 L222.71,279.08 L223.21,278.54 L223.72,277.99 L224.22,277.44 L224.73,276.91 L225.23,276.41 L225.74,275.94 L226.24,275.51 L226.75,275.13 L227.25,274.82 L227.76,274.54 L228.26,274.26 L228.76,273.98 L229.27,273.73 L229.77,273.50 L230.28,273.30 L230.78,273.15 L231.29,273.05 L231.79,273.02 L232.30,273.03 L232.80,273.07 L233.31,273.13 L233.81,273.20 L234.32,273.30 L234.82,273.41 L235.33,273.53 L235.83,273.66 L236.33,273.80 L236.84,273.95 L237.34,274.10 L237.85,274.28 L238.35,274.50 L238.86,274.76 L239.36,275.06 L239.87,275.39 L240.37,275.76 L240.88,276.16 L241.38,276.59 L241.89,277.03 L242.39,277.50 L242.90,277.99 L243.40,278.49 L243.90,279.00 L244.41,279.52 L244.91,280.05 L245.42,280.58 L245.92,281.13 L246.43,281.73 L246.93,282.37 L247.44,283.04 L247.94,283.75 L248.45,284.48 L248.95,285.25 L249.46,286.04 L249.96,286.85 L250.47,287.68 L250.97,288.52 L251.47,289.37 L251.98,290.23 L252.48,291.09 L252.99,291.96 L253.49,292.82 L254.00,293.70 L254.50,294.61 L255.01,295.54 L255.51,296.50 L256.02,297.48 L256.52,298.48 L257.03,299.48 L257.53,300.50 L258.04,301.51 L258.54,302.53 L259.04,303.54 L259.55,304.54 L260.05,305.53 L260.56,306.50 L261.06,307.46 L261.57,308.43 L262.07,309.40 L262.58,310.37 L263.08,311.34 L263.59,312.31 L264.09,313.28 L264.60,314.24 L265.10,315.19 L265.61,316.14 L266.11,317.08 L266.61,318.02 L267.12,318.94 L267.62,319.84 L268.13,320.74 L268.63,321.62 L269.14,322.49 L269.64,323.36 L270.15,324.22 L270.65,325.07 L271.16,325.92 L271.66,326.76 L272.17,327.59 L272.67,328.41 L273.18,329.23 L273.68,330.03 L274.18,330.82 L274.69,331.60 L275.19,332.37 L275.70,333.12 L276.20,333.86 L276.71,334.58 L277.21,335.30 L277.72,336.01 L278.22,336.72 L278.73,337.43 L279.23,338.13 L279.74,338.81 L280.24,339.49 L280.75,340.14 L281.25,340.78 L281.75,341.40 L282.26,341.99 L282.76,342.55 L283.27,343.08 L283.77,343.58 L284.28,344.05 L284.78,344.50 L285.29,344.94 L285.79,345.35 L286.30,345.76 L286.80,346.14 L287.31,346.52 L287.81,346.89 L288.32,347.25 L288.82,347.60 L289.32,347.95 L289.83,348.29 L290.33,348.64 L290.84,348.98 L291.34,349.32 L291.85,349.66 L292.35,350.00 L292.86,350.33 L293.36,350.66 L293.87,350.99 L294.37,351.31 L294.88,351.63 L295.38,351.94 L295.89,352.26 L296.39,352.57 L296.89,352.87 L297.40,353.18 L297.90,353.48 L298.41,353.78 L298.91,354.08 L299.42,354.37 L299.92,354.66 L300.43,354.95 L300.93,355.23 L301.44,355.52 L301.94,355.80 L302.45,356.08 L302.95,356.35 L303.46,356.63 L303.96,356.90 L304.46,357.17 L304.97,357.44 L305.47,357.71 L305.98,357.97 L306.48,358.24 L306.99,358.50 L307.49,358.75 L308.00,359.01 L308.50,359.26 L309.01,359.50 L309.51,359.74 L310.02,359.98 L310.52,360.21 L311.03,360.43 L311.53,360.65 L312.03,360.86 L312.54,361.07 L313.04,361.27 L313.55,361.46 L314.05,361.65 L314.56,361.84 L315.06,362.03 L315.57,362.21 L316.07,362.38 L316.58,362.56 L317.08,362.73 L317.59,362.89 L318.09,363.06 L318.60,363.22 L319.10,363.38 L319.60,363.54 L320.11,363.69 L320.61,363.85 L321.12,364.00 L321.62,364.14 L322.13,364.29 L322.63,364.43 L323.14,364.56 L323.64,364.69 L324.15,364.82 L324.65,364.94 L325.16,365.04 L325.66,365.13 L326.17,365.22 L326.67,365.31 L327.17,365.41 L327.68,365.51 L328.18,365.62 L328.69,365.75 L329.19,365.90 L329.70,366.09 L330.20,366.33 L330.71,366.61 L331.21,366.93 L331.72,367.28 L332.22,367.64 L332.73,368.02 L333.23,368.40 L333.74,368.78 L334.24,369.14 L334.74,369.51 L335.25,369.91 L335.75,370.33 L336.26,370.75 L336.76,371.18 L337.27,371.60 L337.77,372.02 L338.28,372.41 L338.78,372.77 L339.29,373.10 L339.79,373.41 L340.30,373.70 L340.80,373.99 L341.31,374.27 L341.81,374.54 L342.31,374.79 L342.82,375.03 L343.32,375.25 L343.83,375.44 L344.33,375.62 L344.84,375.78 L345.34,375.93 L345.85,376.08 L346.35,376.21 L346.86,376.34 L347.36,376.47 L347.87,376.58 L348.37,376.69 L348.88,376.79 L349.38,376.89 L349.88,376.98 L350.39,377.06 L350.89,377.14 L351.40,377.22 L351.90,377.29 L352.41,377.36 L352.91,377.43 L353.42,377.49 L353.92,377.55 L354.43,377.60 L354.93,377.66 L355.44,377.70 L355.94,377.74 L356.45,377.78 L356.95,377.81 L357.45,377.85 L357.96,377.88 L358.46,377.91 L358.97,377.94 L359.47,377.97 L359.98,378.00 L360.48,378.03 L360.99,378.05 L361.49,378.07 L362.00,378.09 L362.50,378.11 L363.01,378.12 L363.51,378.13 L364.02,378.14 L364.52,378.14 L365.02,378.14 L365.53,378.14 L366.03,378.14 L366.54,378.14 L367.04,378.14 L367.55,378.14 L368.05,378.14 L368.56,378.14 L369.06,378.14 L369.57,378.14 L370.07,378.14 L370.58,378.14 L371.08,378.14 L371.59,378.14 L372.09,378.14 L372.59,378.14 L373.10,378.14 L373.60,378.14 L374.11,378.14 L374.61,378.14 L375.12,378.14 L375.62,378.14 L376.13,378.14 L376.63,378.14 L377.14,378.14 L377.64,378.14 L378.15,378.14 L378.65,378.14 L379.16,378.14 L379.66,378.14 L380.16,378.14 L380.67,378.14 L381.17,378.14 L381.68,378.14 L382.18,378.14 L382.69,378.14 L383.19,378.14 L383.70,378.14 L384.20,378.14 L384.71,378.14 L385.21,378.14 L385.72,378.14 L386.22,378.14 L386.73,378.14 L387.23,378.14 L387.73,378.14 L388.24,378.14 L388.74,378.14 L389.25,378.14 L389.75,378.14 L390.26,378.14 L390.76,378.14 L391.27,378.14 L391.77,378.14 L392.28,378.14 L392.78,378.14 L393.29,378.14 L393.79,378.14 L394.30,378.14 L394.80,378.14" fill="none" stroke="#3c4fa6" stroke-width="0.9" stroke-linejoin="round"/>
<path d="M102.09,364.82 L102.60,365.03 L103.10,365.24 L103.61,365.45 L104.11,365.64 L104.62,365.83 L105.12,366.02 L105.63,366.19 L106.13,366.34 L106.64,366.49 L107.14,366.62 L107.64,366.74 L108.15,366.86 L108.65,366.97 L109.16,367.08 L109.66,367.19 L110.17,367.29 L110.67,367.39 L111.18,367.48 L111.68,367.57 L112.19,367.65 L112.69,367.73 L113.20,367.81 L113.70,367.88 L114.21,367.94 L114.71,368.00 L115.21,368.06 L115.72,368.11 L116.22,368.16 L116.73,368.21 L117.23,368.26 L117.74,368.30 L118.24,368.35 L118.75,368.39 L119.25,368.42 L119.76,368.46 L120.26,368.49 L120.77,368.52 L121.27,368.55 L121.78,368.58 L122.28,368.60 L122.78,368.62 L123.29,368.64 L123.79,368.66 L124.30,368.68 L124.80,368.70 L125.31,368.72 L125.81,368.74 L126.32,368.75 L126.82,368.76 L127.33,368.77 L127.83,368.78 L128.34,368.78 L128.84,368.78 L129.35,368.78 L129.85,368.78 L130.35,368.78 L130.86,368.78 L131.36,368.78 L131.87,368.78 L132.37,368.78 L132.88,368.81 L133.38,368.89 L133.89,369.02 L134.39,369.17 L134.90,369.35 L135.40,369.53 L135.91,369.70 L136.41,369.86 L136.92,370.01 L137.42,370.17 L137.92,370.33 L138.43,370.49 L138.93,370.65 L139.44,370.82 L139.94,370.99 L140.45,371.15 L140.95,371.32 L141.46,371.48 L141.96,371.64 L142.47,371.81 L142.97,371.99 L143.48,372.16 L143.98,372.32 L144.49,372.47 L144.99,372.62 L145.49,372.74 L146.00,372.86 L146.50,372.98 L147.01,373.10 L147.51,373.21 L148.02,373.31 L148.52,373.39 L149.03,373.44 L149.53,373.46 L150.04,373.46 L150.54,373.46 L151.05,373.46 L151.55,373.46 L152.06,373.46 L152.56,373.46 L153.06,373.46 L153.57,373.46 L154.07,373.44 L154.58,373.38 L155.08,373.28 L155.59,373.15 L156.09,372.99 L156.60,372.81 L157.10,372.60 L157.61,372.38 L158.11,372.07 L158.62,371.59 L159.12,370.97 L159.63,370.21 L160.13,369.32 L160.63,368.32 L161.14,367.21 L161.64,366.01 L162.15,364.73 L162.65,363.38 L163.16,361.70 L163.66,359.49 L164.17,356.84 L164.67,353.84 L165.18,350.57 L165.68,347.14 L166.19,343.62 L166.69,340.12 L167.20,336.71 L167.70,333.50 L168.20,330.20 L168.71,326.64 L169.21,323.04 L169.72,319.65 L170.22,316.70 L170.73,314.42 L171.23,312.59 L171.74,310.89 L172.24,309.37 L172.75,308.09 L173.25,307.11 L173.76,306.50 L174.26,306.11 L174.77,305.77 L175.27,305.48 L175.77,305.25 L176.28,305.11 L176.78,305.06 L177.29,305.12 L177.79,305.28 L178.30,305.52 L178.80,305.78 L179.31,306.04 L179.81,306.27 L180.32,306.44 L180.82,306.50 L181.33,306.45 L181.83,306.31 L182.34,306.09 L182.84,305.81 L183.34,305.48 L183.85,305.12 L184.35,304.73 L184.86,304.34 L185.36,303.88 L185.87,303.29 L186.37,302.59 L186.88,301.80 L187.38,300.92 L187.89,299.97 L188.39,298.98 L188.90,297.95 L189.40,296.90 L189.91,295.84 L190.41,294.80 L190.91,293.78 L191.42,292.81 L191.92,291.90 L192.43,291.05 L192.93,290.30 L193.44,289.60 L193.94,288.90 L194.45,288.22 L194.95,287.54 L195.46,286.89 L195.96,286.24 L196.47,285.62 L196.97,285.02 L197.48,284.44 L197.98,283.89 L198.48,283.37 L198.99,282.89 L199.49,282.43 L200.00,282.02 L200.50,281.63 L201.01,281.24 L201.51,280.87 L202.02,280.51 L202.52,280.16 L203.03,279.84 L203.53,279.53 L204.04,279.25 L204.54,278.99 L205.05,278.77 L205.55,278.58 L206.05,278.42 L206.56,278.29 L207.06,278.19 L207.57,278.10 L208.07,278.02 L208.58,277.95 L209.08,277.88 L209.59,277.82 L210.09,277.75 L210.60,277.67 L211.10,277.58 L211.61,277.47 L212.11,277.34 L212.62,277.17 L213.12,276.94 L213.62,276.66 L214.13,276.34 L214.63,275.98 L215.14,275.59 L215.64,275.18 L216.15,274.74 L216.65,274.29 L217.16,273.83 L217.66,273.36 L218.17,272.90 L218.67,272.45 L219.18,272.02 L219.68,271.61 L220.19,271.22 L220.69,270.84 L221.19,270.43 L221.70,270.02 L222.20,269.60 L222.71,269.18 L223.21,268.77 L223.72,268.37 L224.22,268.00 L224.73,267.66 L225.23,267.36 L225.74,267.10 L226.24,266.90 L226.75,266.72 L227.25,266.55 L227.76,266.39 L228.26,266.23 L228.76,266.10 L229.27,265.98 L229.77,265.90 L230.28,265.84 L230.78,265.82 L231.29,265.83 L231.79,265.87 L232.30,265.92 L232.80,266.00 L233.31,266.09 L233.81,266.20 L234.32,266.32 L234.82,266.46 L235.33,266.60 L235.83,266.75 L236.33,266.90 L236.84,267.08 L237.34,267.32 L237.85,267.61 L238.35,267.94 L238.86,268.32 L239.36,268.74 L239.87,269.19 L240.37,269.66 L240.88,270.17 L241.38,270.70 L241.89,271.24 L242.39,271.80 L242.90,272.37 L243.40,272.95 L243.90,273.52 L244.41,274.10 L244.91,274.69 L245.42,275.32 L245.92,275.98 L246.43,276.68 L246.93,277.40 L247.44,278.15 L247.94,278.93 L248.45,279.73 L248.95,280.55 L249.46,281.39 L249.96,282.25 L250.47,283.12 L250.97,284.00 L251.47,284.89 L251.98,285.79 L252.48,286.69 L252.99,287.59 L253.49,288.50 L254.00,289.42 L254.50,290.38 L255.01,291.36 L255.51,292.37 L256.02,293.40 L256.52,294.44 L257.03,295.50 L257.53,296.56 L258.04,297.63 L258.54,298.70 L259.04,299.77 L259.55,300.82 L260.05,301.87 L260.56,302.90 L261.06,303.92 L261.57,304.95 L262.07,305.99 L262.58,307.02 L263.08,308.06 L263.59,309.10 L264.09,310.13 L264.60,311.16 L265.10,312.19 L265.61,313.21 L266.11,314.22 L266.61,315.22 L267.12,316.21 L267.62,317.19 L268.13,318.15 L268.63,319.10 L269.14,320.04 L269.64,320.97 L270.15,321.90 L270.65,322.83 L271.16,323.75 L271.66,324.66 L272.17,325.56 L272.67,326.45 L273.18,327.34 L273.68,328.21 L274.18,329.07 L274.69,329.91 L275.19,330.74 L275.70,331.56 L276.20,332.36 L276.71,333.14 L277.21,333.92 L277.72,334.69 L278.22,335.47 L278.73,336.24 L279.23,337.00 L279.74,337.75 L280.24,338.49 L280.75,339.20 L281.25,339.89 L281.75,340.55 L282.26,341.18 L282.76,341.78 L283.27,342.34 L283.77,342.86 L284.28,343.34 L284.78,343.80 L285.29,344.24 L285.79,344.66 L286.30,345.05 L286.80,345.44 L287.31,345.81 L287.81,346.17 L288.32,346.53 L288.82,346.88 L289.32,347.22 L289.83,347.56 L290.33,347.91 L290.84,348.26 L291.34,348.61 L291.85,348.96 L292.35,349.31 L292.86,349.65 L293.36,350.00 L293.87,350.34 L294.37,350.67 L294.88,351.01 L295.38,351.34 L295.89,351.67 L296.39,352.00 L296.89,352.33 L297.40,352.65 L297.90,352.97 L298.41,353.28 L298.91,353.60 L299.42,353.91 L299.92,354.21 L300.43,354.52 L300.93,354.82 L301.44,355.11 L301.94,355.41 L302.45,355.70 L302.95,355.98 L303.46,356.26 L303.96,356.54 L304.46,356.81 L304.97,357.09 L305.47,357.36 L305.98,357.62 L306.48,357.89 L306.99,358.15 L307.49,358.40 L308.00,358.66 L308.50,358.90 L309.01,359.15 L309.51,359.39 L310.02,359.62 L310.52,359.85 L311.03,360.07 L311.53,360.29 L312.03,360.50 L312.54,360.70 L313.04,360.90 L313.55,361.09 L314.05,361.28 L314.56,361.46 L315.06,361.63 L315.57,361.81 L316.07,361.98 L316.58,362.15 L317.08,362.32 L317.59,362.49 L318.09,362.67 L318.60,362.84 L319.10,363.02 L319.60,363.20 L320.11,363.39 L320.61,363.57 L321.12,363.76 L321.62,363.94 L322.13,364.13 L322.63,364.31 L323.14,364.49 L323.64,364.66 L324.15,364.82 L324.65,364.97 L325.16,365.11 L325.66,365.25 L326.17,365.37 L326.67,365.50 L327.17,365.63 L327.68,365.77 L328.18,365.92 L328.69,366.08 L329.19,366.26 L329.70,366.47 L330.20,366.70 L330.71,366.95 L331.21,367.23 L331.72,367.52 L332.22,367.83 L332.73,368.15 L333.23,368.48 L333.74,368.81 L334.24,369.14 L334.74,369.49 L335.25,369.88 L335.75,370.29 L336.26,370.72 L336.76,371.15 L337.27,371.58 L337.77,372.00 L338.28,372.40 L338.78,372.77 L339.29,373.10 L339.79,373.41 L340.30,373.70 L340.80,373.99 L341.31,374.27 L341.81,374.54 L342.31,374.79 L342.82,375.03 L343.32,375.25 L343.83,375.44 L344.33,375.62 L344.84,375.78 L345.34,375.93 L345.85,376.08 L346.35,376.21 L346.86,376.34 L347.36,376.47 L347.87,376.58 L348.37,376.69 L348.88,376.79 L349.38,376.89 L349.88,376.98 L350.39,377.06 L350.89,377.14 L351.40,377.22 L351.90,377.29 L352.41,377.36 L352.91,377.43 L353.42,377.49 L353.92,377.55 L354.43,377.60 L354.93,377.66 L355.44,377.70 L355.94,377.74 L356.45,377.78 L356.95,377.81 L357.45,377.85 L357.96,377.88 L358.46,377.91 L358.97,377.94 L359.47,377.97 L359.98,378.00 L360.48,378.03 L360.99,378.05 L361.49,378.07 L362.00,378.09 L362.50,378.11 L363.01,378.12 L363.51,378.13 L364.02,378.14 L364.52,378.14 L365.02,378.14 L365.53,378.14 L366.03,378.14 L366.54,378.14 L367.04,378.14 L367.55,378.14 L368.05,378.14 L368.56,378.14 L369.06,378.14 L369.57,378.14 L370.07,378.14 L370.58,378.14 L371.08,378.14 L371.59,378.14 L372.09,378.14 L372.59,378.14 L373.10,378.14 L373.60,378.14 L374.11,378.14 L374.61,378.14 L375.12,378.14 L375.62,378.14 L376.13,378.14 L376.63,378.14 L377.14,378.14 L377.64,378.14 L378.15,378.14 L378.65,378.14 L379.16,378.14 L379.66,378.14 L380.16,378.14 L380.67,378.14 L381.17,378.14 L381.68,378.14 L382.18,378.14 L382.69,378.14 L383.19,378.14 L383.70,378.14 L384.20,378.14 L384.71,378.14 L385.21,378.14 L385.72,378.14 L386.22,378.14 L386.73,378.14 L387.23,378.14 L387.73,378.14 L388.24,378.14 L388.74,378.14 L389.25,378.14 L389.75,378.14 L390.26,378.14 L390.76,378.14 L391.27,378.14 L391.77,378.14 L392.28,378.14 L392.78,378.14 L393.29,378.14 L393.79,378.14 L394.30,378.14 L394.80,378.14" fill="none" stroke="#2aa2e0" stroke-width="0.9" stroke-linejoin="round"/>
<path d="M102.09,364.82 L102.60,365.03 L103.10,365.24 L103.61,365.45 L104.11,365.64 L104.62,365.83 L105.12,366.02 L105.63,366.19 L106.13,366.34 L106.64,366.49 L107.14,366.62 L107.64,366.74 L108.15,366.86 L108.65,366.97 L109.16,367.08 L109.66,367.19 L110.17,367.29 L110.67,367.39 L111.18,367.48 L111.68,367.57 L112.19,367.65 L112.69,367.73 L113.20,367.81 L113.70,367.88 L114.21,367.94 L114.71,368.00 L115.21,368.06 L115.72,368.11 L116.22,368.16 L116.73,368.21 L117.23,368.26 L117.74,368.30 L118.24,368.35 L118.75,368.39 L119.25,368.42 L119.76,368.46 L120.26,368.49 L120.77,368.52 L121.27,368.55 L121.78,368.58 L122.28,368.60 L122.78,368.62 L123.29,368.64 L123.79,368.66 L124.30,368.68 L124.80,368.70 L125.31,368.72 L125.81,368.74 L126.32,368.75 L126.82,368.76 L127.33,368.77 L127.83,368.78 L128.34,368.78 L128.84,368.78 L129.35,368.78 L129.85,368.78 L130.35,368.78 L130.86,368.78 L131.36,368.78 L131.87,368.78 L132.37,368.78 L132.88,368.81 L133.38,368.89 L133.89,369.02 L134.39,369.17 L134.90,369.35 L135.40,369.53 L135.91,369.70 L136.41,369.86 L136.92,370.01 L137.42,370.17 L137.92,370.33 L138.43,370.49 L138.93,370.65 L139.44,370.82 L139.94,370.99 L140.45,371.15 L140.95,371.32 L141.46,371.48 L141.96,371.64 L142.47,371.81 L142.97,371.99 L143.48,372.16 L143.98,372.32 L144.49,372.47 L144.99,372.62 L145.49,372.74 L146.00,372.86 L146.50,372.98 L147.01,373.10 L147.51,373.21 L148.02,373.31 L148.52,373.39 L149.03,373.44 L149.53,373.46 L150.04,373.46 L150.54,373.46 L151.05,373.46 L151.55,373.46 L152.06,373.46 L152.56,373.46 L153.06,373.46 L153.57,373.46 L154.07,373.44 L154.58,373.38 L155.08,373.28 L155.59,373.15 L156.09,372.99 L156.60,372.81 L157.10,372.60 L157.61,372.38 L158.11,372.05 L158.62,371.53 L159.12,370.83 L159.63,369.97 L160.13,368.97 L160.63,367.84 L161.14,366.59 L161.64,365.24 L162.15,363.81 L162.65,362.30 L163.16,360.46 L163.66,358.06 L164.17,355.20 L164.67,351.97 L165.18,348.46 L165.68,344.76 L166.19,340.97 L166.69,337.16 L167.20,333.44 L167.70,329.90 L168.20,326.23 L168.71,322.25 L169.21,318.21 L169.72,314.36 L170.22,310.98 L170.73,308.30 L171.23,306.11 L171.74,304.06 L172.24,302.21 L172.75,300.63 L173.25,299.40 L173.76,298.58 L174.26,298.01 L174.77,297.50 L175.27,297.06 L175.77,296.72 L176.28,296.50 L176.78,296.42 L177.29,296.48 L177.79,296.64 L178.30,296.88 L178.80,297.14 L179.31,297.40 L179.81,297.63 L180.32,297.80 L180.82,297.86 L181.33,297.81 L181.83,297.67 L182.34,297.45 L182.84,297.18 L183.34,296.85 L183.85,296.48 L184.35,296.10 L184.86,295.70 L185.36,295.22 L185.87,294.60 L186.37,293.84 L186.88,292.98 L187.38,292.01 L187.89,290.98 L188.39,289.89 L188.90,288.76 L189.40,287.61 L189.91,286.46 L190.41,285.33 L190.91,284.23 L191.42,283.19 L191.92,282.22 L192.43,281.35 L192.93,280.58 L193.44,279.87 L193.94,279.15 L194.45,278.43 L194.95,277.72 L195.46,277.02 L195.96,276.34 L196.47,275.69 L196.97,275.09 L197.48,274.52 L197.98,274.01 L198.48,273.56 L198.99,273.18 L199.49,272.88 L200.00,272.66 L200.50,272.49 L201.01,272.32 L201.51,272.17 L202.02,272.03 L202.52,271.90 L203.03,271.79 L203.53,271.70 L204.04,271.64 L204.54,271.59 L205.05,271.58 L205.55,271.58 L206.05,271.58 L206.56,271.58 L207.06,271.58 L207.57,271.58 L208.07,271.58 L208.58,271.58 L209.08,271.58 L209.59,271.58 L210.09,271.58 L210.60,271.58 L211.10,271.58 L211.61,271.54 L212.11,271.42 L212.62,271.23 L213.12,270.98 L213.62,270.67 L214.13,270.32 L214.63,269.93 L215.14,269.52 L215.64,269.08 L216.15,268.64 L216.65,268.19 L217.16,267.74 L217.66,267.31 L218.17,266.90 L218.67,266.48 L219.18,266.01 L219.68,265.51 L220.19,264.98 L220.69,264.43 L221.19,263.89 L221.70,263.35 L222.20,262.83 L222.71,262.34 L223.21,261.89 L223.72,261.48 L224.22,261.14 L224.73,260.83 L225.23,260.51 L225.74,260.19 L226.24,259.88 L226.75,259.59 L227.25,259.33 L227.76,259.09 L228.26,258.90 L228.76,258.75 L229.27,258.65 L229.77,258.62 L230.28,258.63 L230.78,258.67 L231.29,258.72 L231.79,258.80 L232.30,258.89 L232.80,259.00 L233.31,259.12 L233.81,259.25 L234.32,259.39 L234.82,259.54 L235.33,259.70 L235.83,259.90 L236.33,260.19 L236.84,260.55 L237.34,260.99 L237.85,261.49 L238.35,262.04 L238.86,262.65 L239.36,263.30 L239.87,263.99 L240.37,264.71 L240.88,265.45 L241.38,266.22 L241.89,267.00 L242.39,267.78 L242.90,268.57 L243.40,269.35 L243.90,270.11 L244.41,270.86 L244.91,271.61 L245.42,272.39 L245.92,273.19 L246.43,274.02 L246.93,274.87 L247.44,275.75 L247.94,276.64 L248.45,277.54 L248.95,278.47 L249.46,279.40 L249.96,280.35 L250.47,281.30 L250.97,282.27 L251.47,283.23 L251.98,284.20 L252.48,285.18 L252.99,286.15 L253.49,287.12 L254.00,288.12 L254.50,289.13 L255.01,290.15 L255.51,291.19 L256.02,292.23 L256.52,293.29 L257.03,294.35 L257.53,295.42 L258.04,296.49 L258.54,297.56 L259.04,298.63 L259.55,299.70 L260.05,300.76 L260.56,301.82 L261.06,302.88 L261.57,303.95 L262.07,305.03 L262.58,306.11 L263.08,307.20 L263.59,308.29 L264.09,309.38 L264.60,310.46 L265.10,311.55 L265.61,312.62 L266.11,313.68 L266.61,314.73 L267.12,315.76 L267.62,316.77 L268.13,317.77 L268.63,318.74 L269.14,319.70 L269.64,320.64 L270.15,321.58 L270.65,322.51 L271.16,323.43 L271.66,324.34 L272.17,325.24 L272.67,326.13 L273.18,327.01 L273.68,327.87 L274.18,328.73 L274.69,329.57 L275.19,330.39 L275.70,331.20 L276.20,332.00 L276.71,332.78 L277.21,333.56 L277.72,334.33 L278.22,335.11 L278.73,335.88 L279.23,336.64 L279.74,337.39 L280.24,338.13 L280.75,338.84 L281.25,339.53 L281.75,340.19 L282.26,340.82 L282.76,341.42 L283.27,341.98 L283.77,342.50 L284.28,342.98 L284.78,343.44 L285.29,343.88 L285.79,344.30 L286.30,344.69 L286.80,345.08 L287.31,345.45 L287.81,345.81 L288.32,346.17 L288.82,346.52 L289.32,346.86 L289.83,347.20 L290.33,347.55 L290.84,347.90 L291.34,348.25 L291.85,348.60 L292.35,348.94 L292.86,349.29 L293.36,349.62 L293.87,349.96 L294.37,350.29 L294.88,350.63 L295.38,350.95 L295.89,351.28 L296.39,351.60 L296.89,351.92 L297.40,352.24 L297.90,352.56 L298.41,352.87 L298.91,353.18 L299.42,353.49 L299.92,353.80 L300.43,354.10 L300.93,354.41 L301.44,354.71 L301.94,355.00 L302.45,355.30 L302.95,355.60 L303.46,355.89 L303.96,356.18 L304.46,356.47 L304.97,356.76 L305.47,357.06 L305.98,357.35 L306.48,357.64 L306.99,357.92 L307.49,358.21 L308.00,358.49 L308.50,358.77 L309.01,359.04 L309.51,359.30 L310.02,359.56 L310.52,359.81 L311.03,360.05 L311.53,360.28 L312.03,360.50 L312.54,360.71 L313.04,360.91 L313.55,361.10 L314.05,361.29 L314.56,361.47 L315.06,361.65 L315.57,361.82 L316.07,361.99 L316.58,362.16 L317.08,362.33 L317.59,362.50 L318.09,362.67 L318.60,362.84 L319.10,363.02 L319.60,363.20 L320.11,363.38 L320.61,363.56 L321.12,363.74 L321.62,363.92 L322.13,364.10 L322.63,364.28 L323.14,364.46 L323.64,364.64 L324.15,364.82 L324.65,365.00 L325.16,365.17 L325.66,365.34 L326.17,365.51 L326.67,365.68 L327.17,365.86 L327.68,366.04 L328.18,366.22 L328.69,366.42 L329.19,366.62 L329.70,366.83 L330.20,367.05 L330.71,367.28 L331.21,367.51 L331.72,367.76 L332.22,368.01 L332.73,368.28 L333.23,368.55 L333.74,368.84 L334.24,369.14 L334.74,369.47 L335.25,369.85 L335.75,370.25 L336.26,370.68 L336.76,371.12 L337.27,371.56 L337.77,371.99 L338.28,372.39 L338.78,372.77 L339.29,373.10 L339.79,373.41 L340.30,373.70 L340.80,373.99 L341.31,374.27 L341.81,374.54 L342.31,374.79 L342.82,375.03 L343.32,375.25 L343.83,375.44 L344.33,375.62 L344.84,375.78 L345.34,375.93 L345.85,376.08 L346.35,376.21 L346.86,376.34 L347.36,376.47 L347.87,376.58 L348.37,376.69 L348.88,376.79 L349.38,376.89 L349.88,376.98 L350.39,377.06 L350.89,377.14 L351.40,377.22 L351.90,377.29 L352.41,377.36 L352.91,377.43 L353.42,377.49 L353.92,377.55 L354.43,377.60 L354.93,377.66 L355.44,377.70 L355.94,377.74 L356.45,377.78 L356.95,377.81 L357.45,377.85 L357.96,377.88 L358.46,377.91 L358.97,377.94 L359.47,377.97 L359.98,378.00 L360.48,378.03 L360.99,378.05 L361.49,378.07 L362.00,378.09 L362.50,378.11 L363.01,378.12 L363.51,378.13 L364.02,378.14 L364.52,378.14 L365.02,378.14 L365.53,378.14 L366.03,378.14 L366.54,378.14 L367.04,378.14 L367.55,378.14 L368.05,378.14 L368.56,378.14 L369.06,378.14 L369.57,378.14 L370.07,378.14 L370.58,378.14 L371.08,378.14 L371.59,378.14 L372.09,378.14 L372.59,378.14 L373.10,378.14 L373.60,378.14 L374.11,378.14 L374.61,378.14 L375.12,378.14 L375.62,378.14 L376.13,378.14 L376.63,378.14 L377.14,378.14 L377.64,378.14 L378.15,378.14 L378.65,378.14 L379.16,378.14 L379.66,378.14 L380.16,378.14 L380.67,378.14 L381.17,378.14 L381.68,378.14 L382.18,378.14 L382.69,378.14 L383.19,378.14 L383.70,378.14 L384.20,378.14 L384.71,378.14 L385.21,378.14 L385.72,378.14 L386.22,378.14 L386.73,378.14 L387.23,378.14 L387.73,378.14 L388.24,378.14 L388.74,378.14 L389.25,378.14 L389.75,378.14 L390.26,378.14 L390.76,378.14 L391.27,378.14 L391.77,378.14 L392.28,378.14 L392.78,378.14 L393.29,378.14 L393.79,378.14 L394.30,378.14 L394.80,378.14" fill="none" stroke="#5ccaf2" stroke-width="0.9" stroke-linejoin="round"/>
<line x1="177.5" y1="252.5" x2="177.5" y2="378.5" stroke="#111" stroke-width="1.4" stroke-dasharray="7.3 8" stroke-dashoffset="4.8"/>
<rect x="92.0" y="252.5" width="302.8" height="126.0" fill="none" stroke="#4e5fc2" stroke-width="1"/>
<line x1="92.0" y1="360.50" x2="95.0" y2="360.50" stroke="#4e5fc2" stroke-width="1"/>
<line x1="394.8" y1="360.50" x2="391.8" y2="360.50" stroke="#4e5fc2" stroke-width="1"/>
<line x1="92.0" y1="342.50" x2="95.0" y2="342.50" stroke="#4e5fc2" stroke-width="1"/>
<line x1="394.8" y1="342.50" x2="391.8" y2="342.50" stroke="#4e5fc2" stroke-width="1"/>
<line x1="92.0" y1="324.50" x2="95.0" y2="324.50" stroke="#4e5fc2" stroke-width="1"/>
<line x1="394.8" y1="324.50" x2="391.8" y2="324.50" stroke="#4e5fc2" stroke-width="1"/>
<line x1="92.0" y1="306.50" x2="95.0" y2="306.50" stroke="#4e5fc2" stroke-width="1"/>
<line x1="394.8" y1="306.50" x2="391.8" y2="306.50" stroke="#4e5fc2" stroke-width="1"/>
<line x1="92.0" y1="288.50" x2="95.0" y2="288.50" stroke="#4e5fc2" stroke-width="1"/>
<line x1="394.8" y1="288.50" x2="391.8" y2="288.50" stroke="#4e5fc2" stroke-width="1"/>
<line x1="92.0" y1="270.50" x2="95.0" y2="270.50" stroke="#4e5fc2" stroke-width="1"/>
<line x1="394.8" y1="270.50" x2="391.8" y2="270.50" stroke="#4e5fc2" stroke-width="1"/>
<line x1="142.47" y1="378.5" x2="142.47" y2="375.5" stroke="#4e5fc2" stroke-width="1"/>
<line x1="142.47" y1="252.5" x2="142.47" y2="255.5" stroke="#4e5fc2" stroke-width="1"/>
<line x1="192.93" y1="378.5" x2="192.93" y2="375.5" stroke="#4e5fc2" stroke-width="1"/>
<line x1="192.93" y1="252.5" x2="192.93" y2="255.5" stroke="#4e5fc2" stroke-width="1"/>
<line x1="243.40" y1="378.5" x2="243.40" y2="375.5" stroke="#4e5fc2" stroke-width="1"/>
<line x1="243.40" y1="252.5" x2="243.40" y2="255.5" stroke="#4e5fc2" stroke-width="1"/>
<line x1="293.87" y1="378.5" x2="293.87" y2="375.5" stroke="#4e5fc2" stroke-width="1"/>
<line x1="293.87" y1="252.5" x2="293.87" y2="255.5" stroke="#4e5fc2" stroke-width="1"/>
<line x1="344.33" y1="378.5" x2="344.33" y2="375.5" stroke="#4e5fc2" stroke-width="1"/>
<line x1="344.33" y1="252.5" x2="344.33" y2="255.5" stroke="#4e5fc2" stroke-width="1"/>
<text x="89.8" y="254.0" text-anchor="end" font-size="9">350</text>
<text x="89.8" y="291.1" text-anchor="end" font-size="9">250</text>
<text x="89.8" y="327.1" text-anchor="end" font-size="9">150</text>
<text x="89.8" y="363.0" text-anchor="end" font-size="9">50</text>
<text x="86.3" y="389.7" text-anchor="middle" font-size="9">0</text>
<text x="142.5" y="386.9" text-anchor="middle" font-size="9">550</text>
<text x="192.9" y="386.9" text-anchor="middle" font-size="9">600</text>
<text x="243.4" y="386.9" text-anchor="middle" font-size="9">650</text>
<text x="293.9" y="386.9" text-anchor="middle" font-size="9">700</text>
<text x="344.3" y="386.9" text-anchor="middle" font-size="9">750</text>
<text x="394.8" y="386.9" text-anchor="middle" font-size="9">800</text>
<text x="208.1" y="400.6" font-size="8.3">wavelength, nm</text>
<text transform="translate(67.1 314.5) rotate(-90)" text-anchor="middle" font-size="8.4">emission, a.u.</text>
<text x="106.1" y="270.1" font-size="8.6">styrene conc.</text>
<line x1="105.2" y1="278.3" x2="119.5" y2="278.3" stroke="#f28080" stroke-width="1"/>
<text x="121.9" y="280.9" font-size="7.1" fill="#e8343c" stroke="#e8343c" stroke-width="0.12">0 ppm</text>
<line x1="105.2" y1="287.1" x2="119.5" y2="287.1" stroke="#e8242c" stroke-width="1"/>
<text x="121.9" y="289.7" font-size="7.1" fill="#e8242c" stroke="#e8242c" stroke-width="0.12">9 ppm</text>
<line x1="105.2" y1="295.8" x2="119.5" y2="295.8" stroke="#2e7a3c" stroke-width="1"/>
<text x="121.9" y="298.4" font-size="7.1" fill="#2e7a3c" stroke="#2e7a3c" stroke-width="0.12">18 ppm</text>
<line x1="105.2" y1="304.6" x2="119.5" y2="304.6" stroke="#9acd3a" stroke-width="1"/>
<text x="121.9" y="307.2" font-size="7.1" fill="#8cc43a" stroke="#8cc43a" stroke-width="0.12">27 ppm</text>
<line x1="105.2" y1="313.3" x2="119.5" y2="313.3" stroke="#8444b4" stroke-width="1"/>
<text x="121.9" y="315.9" font-size="7.1" fill="#7a3caa" stroke="#7a3caa" stroke-width="0.12">36 ppm</text>
<line x1="105.2" y1="322.1" x2="119.5" y2="322.1" stroke="#d485d6" stroke-width="1"/>
<text x="121.9" y="324.7" font-size="7.1" fill="#d07fd2" stroke="#d07fd2" stroke-width="0.12">45 ppm</text>
<line x1="105.2" y1="330.8" x2="119.5" y2="330.8" stroke="#3c4fa6" stroke-width="1"/>
<text x="121.9" y="333.4" font-size="7.1" fill="#34489c" stroke="#34489c" stroke-width="0.12">54 ppm</text>
<line x1="105.2" y1="339.6" x2="119.5" y2="339.6" stroke="#2aa2e0" stroke-width="1"/>
<text x="121.9" y="342.2" font-size="7.1" fill="#2296d6" stroke="#2296d6" stroke-width="0.12">63 ppm</text>
<line x1="105.2" y1="348.3" x2="119.5" y2="348.3" stroke="#5ccaf2" stroke-width="1"/>
<text x="121.9" y="350.9" font-size="7.1" fill="#42b8ec" stroke="#42b8ec" stroke-width="0.12">72 ppm</text>
<line x1="36.50" y1="580.90" x2="178.70" y2="463.97" stroke="#e8202a" stroke-width="0.8" stroke-dasharray="1.6 1.3"/>
<circle cx="36.50" cy="575.48" r="1.8" fill="#e8202a"/>
<circle cx="54.27" cy="564.58" r="1.8" fill="#e8202a"/>
<circle cx="72.05" cy="553.00" r="1.8" fill="#e8202a"/>
<circle cx="89.83" cy="543.46" r="1.8" fill="#e8202a"/>
<circle cx="107.60" cy="532.20" r="1.8" fill="#e8202a"/>
<circle cx="125.38" cy="503.11" r="1.8" fill="#e8202a"/>
<circle cx="143.15" cy="490.80" r="1.8" fill="#e8202a"/>
<circle cx="160.93" cy="475.81" r="1.8" fill="#e8202a"/>
<circle cx="178.70" cy="463.55" r="1.8" fill="#e8202a"/>
<rect x="36.5" y="451.5" width="158.0" height="131.0" fill="none" stroke="#4e5fc2" stroke-width="1"/>
<line x1="56.50" y1="582.5" x2="56.50" y2="579.5" stroke="#4e5fc2" stroke-width="1"/>
<line x1="56.50" y1="451.5" x2="56.50" y2="454.5" stroke="#4e5fc2" stroke-width="1"/>
<line x1="76.50" y1="582.5" x2="76.50" y2="579.5" stroke="#4e5fc2" stroke-width="1"/>
<line x1="76.50" y1="451.5" x2="76.50" y2="454.5" stroke="#4e5fc2" stroke-width="1"/>
<line x1="96.50" y1="582.5" x2="96.50" y2="579.5" stroke="#4e5fc2" stroke-width="1"/>
<line x1="96.50" y1="451.5" x2="96.50" y2="454.5" stroke="#4e5fc2" stroke-width="1"/>
<line x1="116.50" y1="582.5" x2="116.50" y2="579.5" stroke="#4e5fc2" stroke-width="1"/>
<line x1="116.50" y1="451.5" x2="116.50" y2="454.5" stroke="#4e5fc2" stroke-width="1"/>
<line x1="135.50" y1="582.5" x2="135.50" y2="579.5" stroke="#4e5fc2" stroke-width="1"/>
<line x1="135.50" y1="451.5" x2="135.50" y2="454.5" stroke="#4e5fc2" stroke-width="1"/>
<line x1="155.50" y1="582.5" x2="155.50" y2="579.5" stroke="#4e5fc2" stroke-width="1"/>
<line x1="155.50" y1="451.5" x2="155.50" y2="454.5" stroke="#4e5fc2" stroke-width="1"/>
<line x1="175.50" y1="582.5" x2="175.50" y2="579.5" stroke="#4e5fc2" stroke-width="1"/>
<line x1="175.50" y1="451.5" x2="175.50" y2="454.5" stroke="#4e5fc2" stroke-width="1"/>
<line x1="36.5" y1="556.50" x2="39.5" y2="556.50" stroke="#4e5fc2" stroke-width="1"/>
<line x1="194.5" y1="556.50" x2="191.5" y2="556.50" stroke="#4e5fc2" stroke-width="1"/>
<line x1="36.5" y1="530.50" x2="39.5" y2="530.50" stroke="#4e5fc2" stroke-width="1"/>
<line x1="194.5" y1="530.50" x2="191.5" y2="530.50" stroke="#4e5fc2" stroke-width="1"/>
<line x1="36.5" y1="503.50" x2="39.5" y2="503.50" stroke="#4e5fc2" stroke-width="1"/>
<line x1="194.5" y1="503.50" x2="191.5" y2="503.50" stroke="#4e5fc2" stroke-width="1"/>
<line x1="36.5" y1="477.50" x2="39.5" y2="477.50" stroke="#4e5fc2" stroke-width="1"/>
<line x1="194.5" y1="477.50" x2="191.5" y2="477.50" stroke="#4e5fc2" stroke-width="1"/>
<text transform="translate(35.5 453.5) scale(0.94 1)" font-size="7.5" text-anchor="end">250</text>
<text transform="translate(35.5 479.7) scale(0.94 1)" font-size="7.5" text-anchor="end">200</text>
<text transform="translate(35.5 505.9) scale(0.94 1)" font-size="7.5" text-anchor="end">150</text>
<text transform="translate(35.5 532.1) scale(0.94 1)" font-size="7.5" text-anchor="end">100</text>
<text transform="translate(35.5 558.3) scale(0.94 1)" font-size="7.5" text-anchor="end">50</text>
<text transform="translate(31.6 584.4) scale(0.94 1)" font-size="7.5" text-anchor="middle">0</text>
<text transform="translate(36.8 591.9) scale(0.94 1)" font-size="7.5" text-anchor="middle">0</text>
<text transform="translate(56.5 591.9) scale(0.94 1)" font-size="7.5" text-anchor="middle">10</text>
<text transform="translate(76.3 591.9) scale(0.94 1)" font-size="7.5" text-anchor="middle">20</text>
<text transform="translate(96.0 591.9) scale(0.94 1)" font-size="7.5" text-anchor="middle">30</text>
<text transform="translate(115.8 591.9) scale(0.94 1)" font-size="7.5" text-anchor="middle">40</text>
<text transform="translate(135.6 591.9) scale(0.94 1)" font-size="7.5" text-anchor="middle">50</text>
<text transform="translate(155.3 591.9) scale(0.94 1)" font-size="7.5" text-anchor="middle">60</text>
<text transform="translate(175.1 591.9) scale(0.94 1)" font-size="7.5" text-anchor="middle">70</text>
<text transform="translate(194.8 591.9) scale(0.94 1)" font-size="7.5" text-anchor="middle">80</text>
<text transform="translate(66 605.1) scale(0.93 1)" font-size="7.6">styrene concentration, ppm <tspan font-style="italic">v/v</tspan></text>
<text transform="translate(14.9 498.7) rotate(-90)" text-anchor="middle" font-size="8.1">emission @585nm, a.u.</text>
<line x1="57.1" y1="459.4" x2="73.4" y2="459.4" stroke="#e8202a" stroke-width="0.8" stroke-dasharray="1.8 1.2"/>
<text transform="translate(74.5 462.1) scale(0.94 1)" font-size="7.5" fill="#e6323a">y = 3.0524 + 3.0993x</text>
<text transform="translate(74.8 470.2) scale(0.94 1)" font-size="7.5" fill="#e6323a">R= 0.99225</text>
<rect x="258.3" y="466.6" width="43.4" height="118.9" fill="#e02028" stroke="#333" stroke-width="0.7"/>
<rect x="312.3" y="506.5" width="43.2" height="79.0" fill="#f0f0f0" stroke="#444" stroke-width="0.7"/>
<rect x="366.3" y="573.4" width="44.1" height="12.1" fill="#f0f0f0" stroke="#444" stroke-width="0.7"/>
<rect x="252.5" y="450.5" width="163.0" height="135.0" fill="none" stroke="#7780cc" stroke-width="1"/>
<line x1="252.5" y1="484.50" x2="255.5" y2="484.50" stroke="#7780cc" stroke-width="1"/>
<line x1="415.5" y1="484.50" x2="412.5" y2="484.50" stroke="#7780cc" stroke-width="1"/>
<line x1="252.5" y1="518.50" x2="255.5" y2="518.50" stroke="#7780cc" stroke-width="1"/>
<line x1="415.5" y1="518.50" x2="412.5" y2="518.50" stroke="#7780cc" stroke-width="1"/>
<line x1="252.5" y1="551.50" x2="255.5" y2="551.50" stroke="#7780cc" stroke-width="1"/>
<line x1="415.5" y1="551.50" x2="412.5" y2="551.50" stroke="#7780cc" stroke-width="1"/>
<line x1="307.5" y1="585.5" x2="307.5" y2="582.5" stroke="#7780cc" stroke-width="1"/>
<line x1="307.5" y1="450.5" x2="307.5" y2="453.5" stroke="#7780cc" stroke-width="1"/>
<line x1="361.5" y1="585.5" x2="361.5" y2="582.5" stroke="#7780cc" stroke-width="1"/>
<line x1="361.5" y1="450.5" x2="361.5" y2="453.5" stroke="#7780cc" stroke-width="1"/>
<text transform="translate(247.2 453.5) scale(0.94 1)" font-size="7.5" text-anchor="end">10</text>
<text transform="translate(247.2 487.1) scale(0.94 1)" font-size="7.5" text-anchor="end">1</text>
<text transform="translate(247.2 521.3) scale(0.94 1)" font-size="7.5" text-anchor="end">0.1</text>
<text transform="translate(247.2 554.6) scale(0.94 1)" font-size="7.5" text-anchor="end">0.01</text>
<text transform="translate(247.2 588.0) scale(0.94 1)" font-size="7.5" text-anchor="end">0.001</text>
<text transform="translate(283.0 595.3) scale(0.95 1)" font-size="7.5" text-anchor="middle">Styrene</text>
<text transform="translate(338.6 595.3) scale(0.95 1)" font-size="7.5" text-anchor="middle">Chloroform</text>
<text transform="translate(391.9 595.3) scale(0.95 1)" font-size="7.5" text-anchor="middle">Ethanol</text>
<text transform="translate(227.1 510.5) rotate(-90)" text-anchor="middle" font-size="7.6">sensitivity, ppm<tspan dy="-2.6" font-size="5.2">-1</tspan></text>
<text x="0.9" y="190.9" font-size="8.7" font-weight="bold" stroke="#111" stroke-width="0.12" textLength="34.3" lengthAdjust="spacingAndGlyphs">Figure 1.</text>
<text x="36.5" y="190.9" font-size="8.4" stroke="#111" stroke-width="0.12" textLength="142.2" lengthAdjust="spacingAndGlyphs">TEM image of PT nanoparticles obtained.</text>
<text x="215.8" y="190.9" font-size="8.7" font-weight="bold" stroke="#111" stroke-width="0.12" textLength="34.9" lengthAdjust="spacingAndGlyphs">Figure 2.</text>
<text x="252.5" y="190.9" font-size="8.4" stroke="#111" stroke-width="0.12" textLength="153.4" lengthAdjust="spacingAndGlyphs">Experimental set-up utilized to obtain vapor</text>
<text x="240.6" y="201.6" font-size="8.4" stroke="#111" stroke-width="0.12" textLength="77.6" lengthAdjust="spacingAndGlyphs">solubilization in water.</text>
<text x="39.3" y="418.2" font-size="8.7" font-weight="bold" stroke="#111" stroke-width="0.12" textLength="34.6" lengthAdjust="spacingAndGlyphs">Figure 3.</text>
<text x="76.4" y="418.2" font-size="8.4" stroke="#111" stroke-width="0.12" textLength="346.6" lengthAdjust="spacingAndGlyphs">Emission spectra ( ex(λ)= 490 nm) at different concentrations of Styrene in water obtained by set-up</text>
<text x="66" y="429.3" font-size="8.4" stroke="#111" stroke-width="0.12" textLength="58.6" lengthAdjust="spacingAndGlyphs">reported in Fig. 2</text>
<text x="14.9" y="624.8" font-size="8.7" font-weight="bold" stroke="#111" stroke-width="0.12" textLength="35.1" lengthAdjust="spacingAndGlyphs">Figure 4.</text>
<text x="51.1" y="624.8" font-size="8.4" stroke="#111" stroke-width="0.12" textLength="159.0" lengthAdjust="spacingAndGlyphs">Concentration vs emission intensity @585nm,</text>
<text x="39.2" y="634.6" font-size="8.4" stroke="#111" stroke-width="0.12" textLength="168.3" lengthAdjust="spacingAndGlyphs">dotted line reports linear fitting in the interval of</text>
<text x="39.2" y="644.4" font-size="8.4" stroke="#111" stroke-width="0.12" textLength="54.1" lengthAdjust="spacingAndGlyphs">concentrations.</text>
<text x="227.8" y="623.1" font-size="8.7" font-weight="bold" stroke="#111" stroke-width="0.12" textLength="34.9" lengthAdjust="spacingAndGlyphs">Figure 5.</text>
<text x="263.8" y="623.1" font-size="8.4" stroke="#111" stroke-width="0.12" textLength="166.1" lengthAdjust="spacingAndGlyphs">Sensitivities to styrene, chloroform and ethanol,</text>
<text x="255.7" y="633.0" font-size="8.4" stroke="#111" stroke-width="0.12" textLength="163.5" lengthAdjust="spacingAndGlyphs">resulting from linear fitting of emission vs conc.</text>
<text x="255.7" y="642.9" font-size="8.4" stroke="#111" stroke-width="0.12" textLength="24.6" lengthAdjust="spacingAndGlyphs">curves.</text>
</svg>
</body></html>
